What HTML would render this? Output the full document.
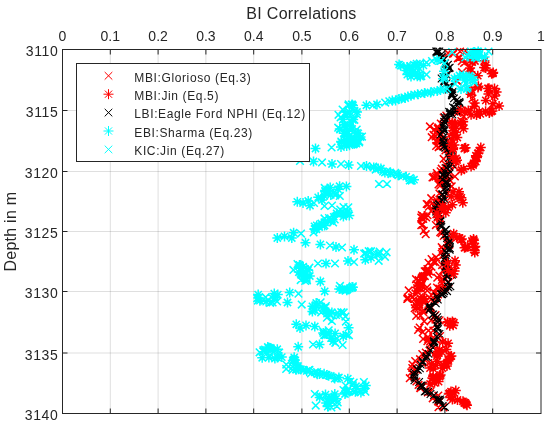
<!DOCTYPE html><html><head><meta charset="utf-8"><style>html,body{margin:0;padding:0;background:#fff;}svg{display:block;filter:blur(0.35px);}text{font-family:"Liberation Sans",Arial,sans-serif;fill:#262626;}</style></head><body>
<svg width="550" height="427" viewBox="0 0 550 427">
<rect width="550" height="427" fill="#fff"/>
<path d="M110.3 49.5V413.5M158.1 49.5V413.5M205.9 49.5V413.5M253.7 49.5V413.5M301.9 49.5V413.5M349.3 49.5V413.5M397.1 49.5V413.5M444.9 49.5V413.5M492.7 49.5V413.5" stroke="#262626" stroke-opacity="0.15" stroke-width="1" fill="none"/>
<path d="M62.5 110.5H541M62.5 171.5H541M62.5 231.5H541M62.5 291.5H541M62.5 353H541" stroke="#262626" stroke-opacity="0.15" stroke-width="1" fill="none"/>
<path d="M449.2 49.7l7.6 7.6m-7.6 0l7.6 -7.6M465 50.8l7.6 7.6m-7.6 0l7.6 -7.6M460.1 48.4l7.6 7.6m-7.6 0l7.6 -7.6M454.1 54.5l7.6 7.6m-7.6 0l7.6 -7.6M455.7 54l7.6 7.6m-7.6 0l7.6 -7.6M454 54.5l7.6 7.6m-7.6 0l7.6 -7.6M449.4 50.1l7.6 7.6m-7.6 0l7.6 -7.6M444.2 49.3l7.6 7.6m-7.6 0l7.6 -7.6M456.3 47.7l7.6 7.6m-7.6 0l7.6 -7.6M466 57.4l7.6 7.6m-7.6 0l7.6 -7.6M458.2 68.4l7.6 7.6m-7.6 0l7.6 -7.6M458 57.4l7.6 7.6m-7.6 0l7.6 -7.6M461.6 58.1l7.6 7.6m-7.6 0l7.6 -7.6M460.3 59.1l7.6 7.6m-7.6 0l7.6 -7.6M453.5 77.2l7.6 7.6m-7.6 0l7.6 -7.6M453 77.1l7.6 7.6m-7.6 0l7.6 -7.6M457.6 117.2l7.6 7.6m-7.6 0l7.6 -7.6M454 119.2l7.6 7.6m-7.6 0l7.6 -7.6M459.9 112.6l7.6 7.6m-7.6 0l7.6 -7.6M453.6 109.1l7.6 7.6m-7.6 0l7.6 -7.6M452.2 107.5l7.6 7.6m-7.6 0l7.6 -7.6M432.6 136.5l7.6 7.6m-7.6 0l7.6 -7.6M430.5 125.7l7.6 7.6m-7.6 0l7.6 -7.6M434 125l7.6 7.6m-7.6 0l7.6 -7.6M426.1 122.6l7.6 7.6m-7.6 0l7.6 -7.6M431.8 132.7l7.6 7.6m-7.6 0l7.6 -7.6M432.3 142.2l7.6 7.6m-7.6 0l7.6 -7.6M427.9 133.4l7.6 7.6m-7.6 0l7.6 -7.6M435.7 136.5l7.6 7.6m-7.6 0l7.6 -7.6M435 143.4l7.6 7.6m-7.6 0l7.6 -7.6M436.1 138.5l7.6 7.6m-7.6 0l7.6 -7.6M437.1 142l7.6 7.6m-7.6 0l7.6 -7.6M429.7 131l7.6 7.6m-7.6 0l7.6 -7.6M431.9 172.8l7.6 7.6m-7.6 0l7.6 -7.6M438.1 174.5l7.6 7.6m-7.6 0l7.6 -7.6M450.8 162.6l7.6 7.6m-7.6 0l7.6 -7.6M433 169.2l7.6 7.6m-7.6 0l7.6 -7.6M440.5 170.7l7.6 7.6m-7.6 0l7.6 -7.6M429.8 173.4l7.6 7.6m-7.6 0l7.6 -7.6M437.9 164.9l7.6 7.6m-7.6 0l7.6 -7.6M444.5 168.6l7.6 7.6m-7.6 0l7.6 -7.6M442.3 170.6l7.6 7.6m-7.6 0l7.6 -7.6M429.7 173l7.6 7.6m-7.6 0l7.6 -7.6M451.1 172.7l7.6 7.6m-7.6 0l7.6 -7.6M442.5 180.1l7.6 7.6m-7.6 0l7.6 -7.6M445.1 175.5l7.6 7.6m-7.6 0l7.6 -7.6M428.7 173.7l7.6 7.6m-7.6 0l7.6 -7.6M437.2 177.8l7.6 7.6m-7.6 0l7.6 -7.6M439.9 175.8l7.6 7.6m-7.6 0l7.6 -7.6M436.2 179.4l7.6 7.6m-7.6 0l7.6 -7.6M447.9 182.5l7.6 7.6m-7.6 0l7.6 -7.6M446.3 176.5l7.6 7.6m-7.6 0l7.6 -7.6M434.7 180.6l7.6 7.6m-7.6 0l7.6 -7.6M427.4 194.4l7.6 7.6m-7.6 0l7.6 -7.6M431 201.4l7.6 7.6m-7.6 0l7.6 -7.6M424.1 200.5l7.6 7.6m-7.6 0l7.6 -7.6M422.9 200.2l7.6 7.6m-7.6 0l7.6 -7.6M425.1 202.9l7.6 7.6m-7.6 0l7.6 -7.6M423.7 211.4l7.6 7.6m-7.6 0l7.6 -7.6M422.4 213.6l7.6 7.6m-7.6 0l7.6 -7.6M418 211.4l7.6 7.6m-7.6 0l7.6 -7.6M418.4 214.3l7.6 7.6m-7.6 0l7.6 -7.6M419.8 212.5l7.6 7.6m-7.6 0l7.6 -7.6M417.4 213.7l7.6 7.6m-7.6 0l7.6 -7.6M419.4 215.2l7.6 7.6m-7.6 0l7.6 -7.6M417.5 221.4l7.6 7.6m-7.6 0l7.6 -7.6M418.9 220.8l7.6 7.6m-7.6 0l7.6 -7.6M420 227l7.6 7.6m-7.6 0l7.6 -7.6M421.9 230.4l7.6 7.6m-7.6 0l7.6 -7.6M438.5 248.2l7.6 7.6m-7.6 0l7.6 -7.6M439 251.4l7.6 7.6m-7.6 0l7.6 -7.6M432.2 253.5l7.6 7.6m-7.6 0l7.6 -7.6M431.7 258.4l7.6 7.6m-7.6 0l7.6 -7.6M427.8 255.3l7.6 7.6m-7.6 0l7.6 -7.6M429.8 258l7.6 7.6m-7.6 0l7.6 -7.6M424.8 259l7.6 7.6m-7.6 0l7.6 -7.6M427.7 263l7.6 7.6m-7.6 0l7.6 -7.6M423.6 267.4l7.6 7.6m-7.6 0l7.6 -7.6M423.6 265.2l7.6 7.6m-7.6 0l7.6 -7.6M424.5 265.6l7.6 7.6m-7.6 0l7.6 -7.6M421 272.3l7.6 7.6m-7.6 0l7.6 -7.6M426 267.9l7.6 7.6m-7.6 0l7.6 -7.6M423.8 269.7l7.6 7.6m-7.6 0l7.6 -7.6M417.5 275.9l7.6 7.6m-7.6 0l7.6 -7.6M418.6 273.4l7.6 7.6m-7.6 0l7.6 -7.6M417.7 280.1l7.6 7.6m-7.6 0l7.6 -7.6M412.2 275.4l7.6 7.6m-7.6 0l7.6 -7.6M417.1 281.6l7.6 7.6m-7.6 0l7.6 -7.6M417 279.6l7.6 7.6m-7.6 0l7.6 -7.6M412.7 280.6l7.6 7.6m-7.6 0l7.6 -7.6M413.9 284.8l7.6 7.6m-7.6 0l7.6 -7.6M412.9 286.7l7.6 7.6m-7.6 0l7.6 -7.6M411.6 289.6l7.6 7.6m-7.6 0l7.6 -7.6M404.9 286.6l7.6 7.6m-7.6 0l7.6 -7.6M408.5 293.5l7.6 7.6m-7.6 0l7.6 -7.6M404.1 294.9l7.6 7.6m-7.6 0l7.6 -7.6M403.4 295.2l7.6 7.6m-7.6 0l7.6 -7.6M403.9 293.7l7.6 7.6m-7.6 0l7.6 -7.6M422.3 267.3l7.6 7.6m-7.6 0l7.6 -7.6M424.5 270.4l7.6 7.6m-7.6 0l7.6 -7.6M420.9 267.5l7.6 7.6m-7.6 0l7.6 -7.6M419.3 272.4l7.6 7.6m-7.6 0l7.6 -7.6M417.9 274.5l7.6 7.6m-7.6 0l7.6 -7.6M417.9 274.6l7.6 7.6m-7.6 0l7.6 -7.6M414.9 276.4l7.6 7.6m-7.6 0l7.6 -7.6M417 284.7l7.6 7.6m-7.6 0l7.6 -7.6M415.8 281.4l7.6 7.6m-7.6 0l7.6 -7.6M415.8 284.4l7.6 7.6m-7.6 0l7.6 -7.6M413.3 284.4l7.6 7.6m-7.6 0l7.6 -7.6M414.2 288.8l7.6 7.6m-7.6 0l7.6 -7.6M415.7 293.6l7.6 7.6m-7.6 0l7.6 -7.6M408.2 293.7l7.6 7.6m-7.6 0l7.6 -7.6M411 295.2l7.6 7.6m-7.6 0l7.6 -7.6M411.5 300.8l7.6 7.6m-7.6 0l7.6 -7.6M415.5 300.1l7.6 7.6m-7.6 0l7.6 -7.6M412.8 303.8l7.6 7.6m-7.6 0l7.6 -7.6M414.6 304.8l7.6 7.6m-7.6 0l7.6 -7.6M410.9 304.4l7.6 7.6m-7.6 0l7.6 -7.6M412.4 312.1l7.6 7.6m-7.6 0l7.6 -7.6M419.5 308.4l7.6 7.6m-7.6 0l7.6 -7.6M416.8 311.9l7.6 7.6m-7.6 0l7.6 -7.6M420.4 317.5l7.6 7.6m-7.6 0l7.6 -7.6M426.3 337.8l7.6 7.6m-7.6 0l7.6 -7.6M424.7 326.8l7.6 7.6m-7.6 0l7.6 -7.6M418.9 328.4l7.6 7.6m-7.6 0l7.6 -7.6M415.9 323.8l7.6 7.6m-7.6 0l7.6 -7.6M419.3 335.2l7.6 7.6m-7.6 0l7.6 -7.6M414.3 326.2l7.6 7.6m-7.6 0l7.6 -7.6M424.5 335.4l7.6 7.6m-7.6 0l7.6 -7.6M424.2 333.3l7.6 7.6m-7.6 0l7.6 -7.6M433.5 273.9l7.6 7.6m-7.6 0l7.6 -7.6M438.2 279.6l7.6 7.6m-7.6 0l7.6 -7.6M423.3 283.5l7.6 7.6m-7.6 0l7.6 -7.6M433.2 283.7l7.6 7.6m-7.6 0l7.6 -7.6M429.9 288.1l7.6 7.6m-7.6 0l7.6 -7.6M435.5 271.8l7.6 7.6m-7.6 0l7.6 -7.6M423.5 286.8l7.6 7.6m-7.6 0l7.6 -7.6M437.7 284.7l7.6 7.6m-7.6 0l7.6 -7.6M438.1 276.1l7.6 7.6m-7.6 0l7.6 -7.6M442.5 111.7l7.6 7.6m-7.6 0l7.6 -7.6M439.9 113.8l7.6 7.6m-7.6 0l7.6 -7.6M437 119.8l7.6 7.6m-7.6 0l7.6 -7.6M434.5 123.6l7.6 7.6m-7.6 0l7.6 -7.6M433.5 130.2l7.6 7.6m-7.6 0l7.6 -7.6M434.7 125.4l7.6 7.6m-7.6 0l7.6 -7.6M434.5 135.9l7.6 7.6m-7.6 0l7.6 -7.6M437.6 130.6l7.6 7.6m-7.6 0l7.6 -7.6M442.1 134.7l7.6 7.6m-7.6 0l7.6 -7.6M434.8 143.3l7.6 7.6m-7.6 0l7.6 -7.6M444.5 144l7.6 7.6m-7.6 0l7.6 -7.6M441.6 146.7l7.6 7.6m-7.6 0l7.6 -7.6M446.4 145.6l7.6 7.6m-7.6 0l7.6 -7.6M439.8 155.1l7.6 7.6m-7.6 0l7.6 -7.6M443.8 151l7.6 7.6m-7.6 0l7.6 -7.6M446.4 161.7l7.6 7.6m-7.6 0l7.6 -7.6M441.5 160.5l7.6 7.6m-7.6 0l7.6 -7.6M441.6 164.5l7.6 7.6m-7.6 0l7.6 -7.6M436.8 167.5l7.6 7.6m-7.6 0l7.6 -7.6M441.4 169.9l7.6 7.6m-7.6 0l7.6 -7.6M441.3 172.9l7.6 7.6m-7.6 0l7.6 -7.6M433.3 171.6l7.6 7.6m-7.6 0l7.6 -7.6M436.3 179l7.6 7.6m-7.6 0l7.6 -7.6M441.4 174.9l7.6 7.6m-7.6 0l7.6 -7.6M436.6 181.7l7.6 7.6m-7.6 0l7.6 -7.6M440.4 184.9l7.6 7.6m-7.6 0l7.6 -7.6M435.6 189.7l7.6 7.6m-7.6 0l7.6 -7.6M439.8 193.4l7.6 7.6m-7.6 0l7.6 -7.6M437.1 196.1l7.6 7.6m-7.6 0l7.6 -7.6M436.5 197.7l7.6 7.6m-7.6 0l7.6 -7.6M432.8 196.6l7.6 7.6m-7.6 0l7.6 -7.6M433.5 199.1l7.6 7.6m-7.6 0l7.6 -7.6M427.4 207.1l7.6 7.6m-7.6 0l7.6 -7.6M430.6 202.8l7.6 7.6m-7.6 0l7.6 -7.6M432.9 205.7l7.6 7.6m-7.6 0l7.6 -7.6M435.9 210.7l7.6 7.6m-7.6 0l7.6 -7.6M436.6 215.8l7.6 7.6m-7.6 0l7.6 -7.6M435.8 220.3l7.6 7.6m-7.6 0l7.6 -7.6M436.5 221l7.6 7.6m-7.6 0l7.6 -7.6M432.1 221.3l7.6 7.6m-7.6 0l7.6 -7.6M437.8 229.4l7.6 7.6m-7.6 0l7.6 -7.6M439.9 232.1l7.6 7.6m-7.6 0l7.6 -7.6M436.4 228.4l7.6 7.6m-7.6 0l7.6 -7.6M443.1 238.5l7.6 7.6m-7.6 0l7.6 -7.6M444 238.2l7.6 7.6m-7.6 0l7.6 -7.6M445.6 240.8l7.6 7.6m-7.6 0l7.6 -7.6M444.1 241.7l7.6 7.6m-7.6 0l7.6 -7.6M437.9 243.4l7.6 7.6m-7.6 0l7.6 -7.6M439.1 245.5l7.6 7.6m-7.6 0l7.6 -7.6M441.9 254.1l7.6 7.6m-7.6 0l7.6 -7.6M440 251.2l7.6 7.6m-7.6 0l7.6 -7.6M438.3 261.3l7.6 7.6m-7.6 0l7.6 -7.6M441.2 262.1l7.6 7.6m-7.6 0l7.6 -7.6M439.4 266.5l7.6 7.6m-7.6 0l7.6 -7.6M444.7 265.2l7.6 7.6m-7.6 0l7.6 -7.6M443.4 269.8l7.6 7.6m-7.6 0l7.6 -7.6M441.1 274.4l7.6 7.6m-7.6 0l7.6 -7.6M444.4 272.6l7.6 7.6m-7.6 0l7.6 -7.6M441.1 283.3l7.6 7.6m-7.6 0l7.6 -7.6M444.6 278.6l7.6 7.6m-7.6 0l7.6 -7.6M435.5 284.9l7.6 7.6m-7.6 0l7.6 -7.6M434.2 290.7l7.6 7.6m-7.6 0l7.6 -7.6M439.2 285.2l7.6 7.6m-7.6 0l7.6 -7.6M433 293.4l7.6 7.6m-7.6 0l7.6 -7.6M430.8 295.6l7.6 7.6m-7.6 0l7.6 -7.6M425.5 293.8l7.6 7.6m-7.6 0l7.6 -7.6M427.5 295.5l7.6 7.6m-7.6 0l7.6 -7.6M426.6 302.7l7.6 7.6m-7.6 0l7.6 -7.6M426.4 304.3l7.6 7.6m-7.6 0l7.6 -7.6M419.7 306.2l7.6 7.6m-7.6 0l7.6 -7.6M427.3 303.9l7.6 7.6m-7.6 0l7.6 -7.6M424.7 306.6l7.6 7.6m-7.6 0l7.6 -7.6M431.6 315.8l7.6 7.6m-7.6 0l7.6 -7.6M431.7 311.3l7.6 7.6m-7.6 0l7.6 -7.6M427.4 316.5l7.6 7.6m-7.6 0l7.6 -7.6M435.8 316.5l7.6 7.6m-7.6 0l7.6 -7.6M432.2 320.4l7.6 7.6m-7.6 0l7.6 -7.6M429.5 326.7l7.6 7.6m-7.6 0l7.6 -7.6M436.2 332.2l7.6 7.6m-7.6 0l7.6 -7.6M429.6 333.7l7.6 7.6m-7.6 0l7.6 -7.6M427.4 339.5l7.6 7.6m-7.6 0l7.6 -7.6M432.3 336.2l7.6 7.6m-7.6 0l7.6 -7.6M423.6 337.4l7.6 7.6m-7.6 0l7.6 -7.6M428.8 340.9l7.6 7.6m-7.6 0l7.6 -7.6M425.7 346.8l7.6 7.6m-7.6 0l7.6 -7.6M418.5 350.3l7.6 7.6m-7.6 0l7.6 -7.6M422 348.7l7.6 7.6m-7.6 0l7.6 -7.6M421.5 356.4l7.6 7.6m-7.6 0l7.6 -7.6M416.2 355.4l7.6 7.6m-7.6 0l7.6 -7.6M418.1 359l7.6 7.6m-7.6 0l7.6 -7.6M411.4 357.2l7.6 7.6m-7.6 0l7.6 -7.6M408.7 360.8l7.6 7.6m-7.6 0l7.6 -7.6M408.5 364.2l7.6 7.6m-7.6 0l7.6 -7.6M412.5 365.8l7.6 7.6m-7.6 0l7.6 -7.6M410.1 372.6l7.6 7.6m-7.6 0l7.6 -7.6M407.5 368.6l7.6 7.6m-7.6 0l7.6 -7.6M410.1 372.2l7.6 7.6m-7.6 0l7.6 -7.6M406 374.4l7.6 7.6m-7.6 0l7.6 -7.6M414.8 381.1l7.6 7.6m-7.6 0l7.6 -7.6M412.6 377.7l7.6 7.6m-7.6 0l7.6 -7.6M416.3 384.2l7.6 7.6m-7.6 0l7.6 -7.6M418.3 381.7l7.6 7.6m-7.6 0l7.6 -7.6M416.7 384.4l7.6 7.6m-7.6 0l7.6 -7.6M426.5 388l7.6 7.6m-7.6 0l7.6 -7.6M428.9 394.5l7.6 7.6m-7.6 0l7.6 -7.6M424 388.7l7.6 7.6m-7.6 0l7.6 -7.6M434.5 391.7l7.6 7.6m-7.6 0l7.6 -7.6M434.2 397.7l7.6 7.6m-7.6 0l7.6 -7.6M435.4 398.3l7.6 7.6m-7.6 0l7.6 -7.6M439.7 403.6l7.6 7.6m-7.6 0l7.6 -7.6M434.7 403.4l7.6 7.6m-7.6 0l7.6 -7.6M467.4 88.4l7.6 7.6m-7.6 0l7.6 -7.6M468.7 94.7l7.6 7.6m-7.6 0l7.6 -7.6" stroke="#ff0000" stroke-width="1.5" fill="none"/>
<path d="M433.8 47.7l7.6 7.6m-7.6 0l7.6 -7.6M433.6 47.7l7.6 7.6m-7.6 0l7.6 -7.6M432.9 49l7.6 7.6m-7.6 0l7.6 -7.6M437.6 50.7l7.6 7.6m-7.6 0l7.6 -7.6M437.1 54l7.6 7.6m-7.6 0l7.6 -7.6M438.2 53.3l7.6 7.6m-7.6 0l7.6 -7.6M439.8 56l7.6 7.6m-7.6 0l7.6 -7.6M441.3 59.6l7.6 7.6m-7.6 0l7.6 -7.6M444.1 60.8l7.6 7.6m-7.6 0l7.6 -7.6M444.8 64.5l7.6 7.6m-7.6 0l7.6 -7.6M442.2 64.5l7.6 7.6m-7.6 0l7.6 -7.6M442.3 66.6l7.6 7.6m-7.6 0l7.6 -7.6M441 69l7.6 7.6m-7.6 0l7.6 -7.6M440.1 73.3l7.6 7.6m-7.6 0l7.6 -7.6M437.8 74.7l7.6 7.6m-7.6 0l7.6 -7.6M440.3 77.1l7.6 7.6m-7.6 0l7.6 -7.6M440.2 78.7l7.6 7.6m-7.6 0l7.6 -7.6M445.2 82.9l7.6 7.6m-7.6 0l7.6 -7.6M446.7 83.1l7.6 7.6m-7.6 0l7.6 -7.6M445 85.7l7.6 7.6m-7.6 0l7.6 -7.6M448.9 87.8l7.6 7.6m-7.6 0l7.6 -7.6M448.1 89.9l7.6 7.6m-7.6 0l7.6 -7.6M448.6 91.7l7.6 7.6m-7.6 0l7.6 -7.6M453 96.3l7.6 7.6m-7.6 0l7.6 -7.6M453.8 99l7.6 7.6m-7.6 0l7.6 -7.6M456 99.5l7.6 7.6m-7.6 0l7.6 -7.6M453.7 101.6l7.6 7.6m-7.6 0l7.6 -7.6M451.4 104.2l7.6 7.6m-7.6 0l7.6 -7.6M452.6 107.1l7.6 7.6m-7.6 0l7.6 -7.6M450.3 107.7l7.6 7.6m-7.6 0l7.6 -7.6M448.6 110.7l7.6 7.6m-7.6 0l7.6 -7.6M446 110.5l7.6 7.6m-7.6 0l7.6 -7.6M443.3 113.7l7.6 7.6m-7.6 0l7.6 -7.6M442.5 116.1l7.6 7.6m-7.6 0l7.6 -7.6M440.4 118l7.6 7.6m-7.6 0l7.6 -7.6M439.9 121.2l7.6 7.6m-7.6 0l7.6 -7.6M439.7 123.3l7.6 7.6m-7.6 0l7.6 -7.6M440.3 125.3l7.6 7.6m-7.6 0l7.6 -7.6M438.5 127.7l7.6 7.6m-7.6 0l7.6 -7.6M436.7 130.8l7.6 7.6m-7.6 0l7.6 -7.6M439.6 133.5l7.6 7.6m-7.6 0l7.6 -7.6M438.9 136.2l7.6 7.6m-7.6 0l7.6 -7.6M439.6 139l7.6 7.6m-7.6 0l7.6 -7.6M440.2 138.3l7.6 7.6m-7.6 0l7.6 -7.6M441 142.1l7.6 7.6m-7.6 0l7.6 -7.6M441.6 144l7.6 7.6m-7.6 0l7.6 -7.6M444.4 145l7.6 7.6m-7.6 0l7.6 -7.6M445.2 148.7l7.6 7.6m-7.6 0l7.6 -7.6M446.9 150.8l7.6 7.6m-7.6 0l7.6 -7.6M445.2 154.3l7.6 7.6m-7.6 0l7.6 -7.6M446.9 156.6l7.6 7.6m-7.6 0l7.6 -7.6M448.2 160.6l7.6 7.6m-7.6 0l7.6 -7.6M445.7 163l7.6 7.6m-7.6 0l7.6 -7.6M444.3 165.1l7.6 7.6m-7.6 0l7.6 -7.6M442.5 164.2l7.6 7.6m-7.6 0l7.6 -7.6M441 168l7.6 7.6m-7.6 0l7.6 -7.6M442.3 171.3l7.6 7.6m-7.6 0l7.6 -7.6M439.6 170.9l7.6 7.6m-7.6 0l7.6 -7.6M438.7 175.7l7.6 7.6m-7.6 0l7.6 -7.6M441.4 178.9l7.6 7.6m-7.6 0l7.6 -7.6M443.1 179.8l7.6 7.6m-7.6 0l7.6 -7.6M441.3 184l7.6 7.6m-7.6 0l7.6 -7.6M443 183.4l7.6 7.6m-7.6 0l7.6 -7.6M442.3 187.7l7.6 7.6m-7.6 0l7.6 -7.6M438.6 190.1l7.6 7.6m-7.6 0l7.6 -7.6M438.3 190.8l7.6 7.6m-7.6 0l7.6 -7.6M438.8 196.2l7.6 7.6m-7.6 0l7.6 -7.6M437.7 196.4l7.6 7.6m-7.6 0l7.6 -7.6M435.2 200.9l7.6 7.6m-7.6 0l7.6 -7.6M435.5 200.2l7.6 7.6m-7.6 0l7.6 -7.6M432.3 205.4l7.6 7.6m-7.6 0l7.6 -7.6M432.3 207.8l7.6 7.6m-7.6 0l7.6 -7.6M434.2 208.6l7.6 7.6m-7.6 0l7.6 -7.6M435.3 211.5l7.6 7.6m-7.6 0l7.6 -7.6M434 212.9l7.6 7.6m-7.6 0l7.6 -7.6M436.6 217.2l7.6 7.6m-7.6 0l7.6 -7.6M436.8 217.6l7.6 7.6m-7.6 0l7.6 -7.6M437.2 221.4l7.6 7.6m-7.6 0l7.6 -7.6M437.5 223.2l7.6 7.6m-7.6 0l7.6 -7.6M441 226.7l7.6 7.6m-7.6 0l7.6 -7.6M443.3 230.1l7.6 7.6m-7.6 0l7.6 -7.6M442.9 230.1l7.6 7.6m-7.6 0l7.6 -7.6M445.1 232.3l7.6 7.6m-7.6 0l7.6 -7.6M443.2 234.2l7.6 7.6m-7.6 0l7.6 -7.6M445.1 237.4l7.6 7.6m-7.6 0l7.6 -7.6M444.6 239.5l7.6 7.6m-7.6 0l7.6 -7.6M446.1 244.5l7.6 7.6m-7.6 0l7.6 -7.6M445.9 246.1l7.6 7.6m-7.6 0l7.6 -7.6M442.2 248.2l7.6 7.6m-7.6 0l7.6 -7.6M442.7 249.3l7.6 7.6m-7.6 0l7.6 -7.6M441.9 252.9l7.6 7.6m-7.6 0l7.6 -7.6M441.1 256.8l7.6 7.6m-7.6 0l7.6 -7.6M443.1 260.5l7.6 7.6m-7.6 0l7.6 -7.6M441.6 262.8l7.6 7.6m-7.6 0l7.6 -7.6M442.5 262.9l7.6 7.6m-7.6 0l7.6 -7.6M444.1 268.3l7.6 7.6m-7.6 0l7.6 -7.6M445.5 268.6l7.6 7.6m-7.6 0l7.6 -7.6M443.2 271.8l7.6 7.6m-7.6 0l7.6 -7.6M443.4 272.9l7.6 7.6m-7.6 0l7.6 -7.6M444.4 278.1l7.6 7.6m-7.6 0l7.6 -7.6M444.1 278.6l7.6 7.6m-7.6 0l7.6 -7.6M443.9 282.9l7.6 7.6m-7.6 0l7.6 -7.6M444.6 283.5l7.6 7.6m-7.6 0l7.6 -7.6M443.3 287.4l7.6 7.6m-7.6 0l7.6 -7.6M440.3 287.4l7.6 7.6m-7.6 0l7.6 -7.6M437.1 290.3l7.6 7.6m-7.6 0l7.6 -7.6M438.3 290.4l7.6 7.6m-7.6 0l7.6 -7.6M432.9 292.6l7.6 7.6m-7.6 0l7.6 -7.6M434 295.7l7.6 7.6m-7.6 0l7.6 -7.6M432 299.5l7.6 7.6m-7.6 0l7.6 -7.6M430.6 298.1l7.6 7.6m-7.6 0l7.6 -7.6M426.8 303.1l7.6 7.6m-7.6 0l7.6 -7.6M424.6 302.5l7.6 7.6m-7.6 0l7.6 -7.6M425.9 305.4l7.6 7.6m-7.6 0l7.6 -7.6M429.3 310.6l7.6 7.6m-7.6 0l7.6 -7.6M428.6 310.8l7.6 7.6m-7.6 0l7.6 -7.6M430.7 312.3l7.6 7.6m-7.6 0l7.6 -7.6M433.4 313.3l7.6 7.6m-7.6 0l7.6 -7.6M434.1 315.8l7.6 7.6m-7.6 0l7.6 -7.6M433.9 318.3l7.6 7.6m-7.6 0l7.6 -7.6M433.5 322.4l7.6 7.6m-7.6 0l7.6 -7.6M434 323.5l7.6 7.6m-7.6 0l7.6 -7.6M434.2 325.4l7.6 7.6m-7.6 0l7.6 -7.6M435.6 330.1l7.6 7.6m-7.6 0l7.6 -7.6M433.1 332.8l7.6 7.6m-7.6 0l7.6 -7.6M434.2 334.3l7.6 7.6m-7.6 0l7.6 -7.6M430.4 337.2l7.6 7.6m-7.6 0l7.6 -7.6M430 338.4l7.6 7.6m-7.6 0l7.6 -7.6M430.4 339.8l7.6 7.6m-7.6 0l7.6 -7.6M429.3 343.7l7.6 7.6m-7.6 0l7.6 -7.6M426.5 346.3l7.6 7.6m-7.6 0l7.6 -7.6M424.7 350.1l7.6 7.6m-7.6 0l7.6 -7.6M422.6 352.3l7.6 7.6m-7.6 0l7.6 -7.6M423.2 353.5l7.6 7.6m-7.6 0l7.6 -7.6M422.2 354.7l7.6 7.6m-7.6 0l7.6 -7.6M418.8 357.2l7.6 7.6m-7.6 0l7.6 -7.6M419 358.4l7.6 7.6m-7.6 0l7.6 -7.6M416.9 360.7l7.6 7.6m-7.6 0l7.6 -7.6M416.1 364.6l7.6 7.6m-7.6 0l7.6 -7.6M414 366l7.6 7.6m-7.6 0l7.6 -7.6M413.2 365.6l7.6 7.6m-7.6 0l7.6 -7.6M410.5 368.6l7.6 7.6m-7.6 0l7.6 -7.6M409.9 370.6l7.6 7.6m-7.6 0l7.6 -7.6M410.8 371.7l7.6 7.6m-7.6 0l7.6 -7.6M410.9 373.9l7.6 7.6m-7.6 0l7.6 -7.6M410.6 376.6l7.6 7.6m-7.6 0l7.6 -7.6M415.3 378.2l7.6 7.6m-7.6 0l7.6 -7.6M417.5 382l7.6 7.6m-7.6 0l7.6 -7.6M416.8 381.8l7.6 7.6m-7.6 0l7.6 -7.6M419.1 382.5l7.6 7.6m-7.6 0l7.6 -7.6M420.9 387.7l7.6 7.6m-7.6 0l7.6 -7.6M422.3 387.3l7.6 7.6m-7.6 0l7.6 -7.6M424.3 387.8l7.6 7.6m-7.6 0l7.6 -7.6M426.7 390.2l7.6 7.6m-7.6 0l7.6 -7.6M430.1 391.5l7.6 7.6m-7.6 0l7.6 -7.6M432.6 395.6l7.6 7.6m-7.6 0l7.6 -7.6M434.7 395.9l7.6 7.6m-7.6 0l7.6 -7.6M436.2 395.7l7.6 7.6m-7.6 0l7.6 -7.6M436.6 397.2l7.6 7.6m-7.6 0l7.6 -7.6M438.9 402.1l7.6 7.6m-7.6 0l7.6 -7.6M441.1 403.2l7.6 7.6m-7.6 0l7.6 -7.6M432.4 47.7l7.6 7.6m-7.6 0l7.6 -7.6M435.5 47.7l7.6 7.6m-7.6 0l7.6 -7.6M440.4 55.7l7.6 7.6m-7.6 0l7.6 -7.6M444 61.1l7.6 7.6m-7.6 0l7.6 -7.6M445.9 63.9l7.6 7.6m-7.6 0l7.6 -7.6M443.3 71.4l7.6 7.6m-7.6 0l7.6 -7.6M439.7 73.4l7.6 7.6m-7.6 0l7.6 -7.6M442.5 79.6l7.6 7.6m-7.6 0l7.6 -7.6M444.2 83.2l7.6 7.6m-7.6 0l7.6 -7.6M448 91.3l7.6 7.6m-7.6 0l7.6 -7.6M450.2 94.6l7.6 7.6m-7.6 0l7.6 -7.6M455.6 98.1l7.6 7.6m-7.6 0l7.6 -7.6M449.2 103.5l7.6 7.6m-7.6 0l7.6 -7.6M446.7 108.4l7.6 7.6m-7.6 0l7.6 -7.6M441.6 116l7.6 7.6m-7.6 0l7.6 -7.6M453.2 106.8l7.6 7.6m-7.6 0l7.6 -7.6M445.3 108l7.6 7.6m-7.6 0l7.6 -7.6M440.9 113.3l7.6 7.6m-7.6 0l7.6 -7.6M441.5 118.7l7.6 7.6m-7.6 0l7.6 -7.6M440.5 126.9l7.6 7.6m-7.6 0l7.6 -7.6M443 137.5l7.6 7.6m-7.6 0l7.6 -7.6M439.7 142.9l7.6 7.6m-7.6 0l7.6 -7.6M448 146.5l7.6 7.6m-7.6 0l7.6 -7.6M448.5 153.5l7.6 7.6m-7.6 0l7.6 -7.6M446.8 158.6l7.6 7.6m-7.6 0l7.6 -7.6M445 170.3l7.6 7.6m-7.6 0l7.6 -7.6M438.7 171.4l7.6 7.6m-7.6 0l7.6 -7.6M442.9 178.1l7.6 7.6m-7.6 0l7.6 -7.6M442.7 190.2l7.6 7.6m-7.6 0l7.6 -7.6M441.3 195.8l7.6 7.6m-7.6 0l7.6 -7.6M433.3 201.6l7.6 7.6m-7.6 0l7.6 -7.6M434.4 205.6l7.6 7.6m-7.6 0l7.6 -7.6M432.9 210.3l7.6 7.6m-7.6 0l7.6 -7.6M435.9 217.6l7.6 7.6m-7.6 0l7.6 -7.6M442.3 225.9l7.6 7.6m-7.6 0l7.6 -7.6M441.4 230.8l7.6 7.6m-7.6 0l7.6 -7.6M446.1 236.4l7.6 7.6m-7.6 0l7.6 -7.6M443.2 244.7l7.6 7.6m-7.6 0l7.6 -7.6M440.9 254.5l7.6 7.6m-7.6 0l7.6 -7.6M441.8 258l7.6 7.6m-7.6 0l7.6 -7.6M443.1 269l7.6 7.6m-7.6 0l7.6 -7.6M448.1 270.9l7.6 7.6m-7.6 0l7.6 -7.6M446.6 282.6l7.6 7.6m-7.6 0l7.6 -7.6M439.7 289.6l7.6 7.6m-7.6 0l7.6 -7.6" stroke="#000000" stroke-width="1.15" fill="none"/>
<path d="M465.1 68h10m-5 -5v10m-3.6 -8.6l7.2 7.2m-7.2 0l7.2 -7.2M480.7 65.3h10m-5 -5v10m-3.6 -8.6l7.2 7.2m-7.2 0l7.2 -7.2M470 61h10m-5 -5v10m-3.6 -8.6l7.2 7.2m-7.2 0l7.2 -7.2M472.8 75.7h10m-5 -5v10m-3.6 -8.6l7.2 7.2m-7.2 0l7.2 -7.2M480.7 67.9h10m-5 -5v10m-3.6 -8.6l7.2 7.2m-7.2 0l7.2 -7.2M467.3 62h10m-5 -5v10m-3.6 -8.6l7.2 7.2m-7.2 0l7.2 -7.2M479.4 60.8h10m-5 -5v10m-3.6 -8.6l7.2 7.2m-7.2 0l7.2 -7.2M479.1 67.6h10m-5 -5v10m-3.6 -8.6l7.2 7.2m-7.2 0l7.2 -7.2M465.4 71.7h10m-5 -5v10m-3.6 -8.6l7.2 7.2m-7.2 0l7.2 -7.2M488.1 73.3h10m-5 -5v10m-3.6 -8.6l7.2 7.2m-7.2 0l7.2 -7.2M488.2 72.6h10m-5 -5v10m-3.6 -8.6l7.2 7.2m-7.2 0l7.2 -7.2M486.7 73.7h10m-5 -5v10m-3.6 -8.6l7.2 7.2m-7.2 0l7.2 -7.2M464.6 90.4h10m-5 -5v10m-3.6 -8.6l7.2 7.2m-7.2 0l7.2 -7.2M466.4 89.6h10m-5 -5v10m-3.6 -8.6l7.2 7.2m-7.2 0l7.2 -7.2M473 87.4h10m-5 -5v10m-3.6 -8.6l7.2 7.2m-7.2 0l7.2 -7.2M473.4 86.3h10m-5 -5v10m-3.6 -8.6l7.2 7.2m-7.2 0l7.2 -7.2M465.6 94.2h10m-5 -5v10m-3.6 -8.6l7.2 7.2m-7.2 0l7.2 -7.2M469.7 103.1h10m-5 -5v10m-3.6 -8.6l7.2 7.2m-7.2 0l7.2 -7.2M469.4 106.5h10m-5 -5v10m-3.6 -8.6l7.2 7.2m-7.2 0l7.2 -7.2M482.8 88.4h10m-5 -5v10m-3.6 -8.6l7.2 7.2m-7.2 0l7.2 -7.2M487.9 103.8h10m-5 -5v10m-3.6 -8.6l7.2 7.2m-7.2 0l7.2 -7.2M480.8 100.4h10m-5 -5v10m-3.6 -8.6l7.2 7.2m-7.2 0l7.2 -7.2M491.6 92.1h10m-5 -5v10m-3.6 -8.6l7.2 7.2m-7.2 0l7.2 -7.2M483.4 94.1h10m-5 -5v10m-3.6 -8.6l7.2 7.2m-7.2 0l7.2 -7.2M494.1 106h10m-5 -5v10m-3.6 -8.6l7.2 7.2m-7.2 0l7.2 -7.2M489.7 96h10m-5 -5v10m-3.6 -8.6l7.2 7.2m-7.2 0l7.2 -7.2M489.5 88.6h10m-5 -5v10m-3.6 -8.6l7.2 7.2m-7.2 0l7.2 -7.2M484 88.3h10m-5 -5v10m-3.6 -8.6l7.2 7.2m-7.2 0l7.2 -7.2M455.9 110.1h10m-5 -5v10m-3.6 -8.6l7.2 7.2m-7.2 0l7.2 -7.2M459.6 112.3h10m-5 -5v10m-3.6 -8.6l7.2 7.2m-7.2 0l7.2 -7.2M463.3 110.5h10m-5 -5v10m-3.6 -8.6l7.2 7.2m-7.2 0l7.2 -7.2M466.1 114.8h10m-5 -5v10m-3.6 -8.6l7.2 7.2m-7.2 0l7.2 -7.2M471.5 114.9h10m-5 -5v10m-3.6 -8.6l7.2 7.2m-7.2 0l7.2 -7.2M474.2 111.8h10m-5 -5v10m-3.6 -8.6l7.2 7.2m-7.2 0l7.2 -7.2M475.3 113.9h10m-5 -5v10m-3.6 -8.6l7.2 7.2m-7.2 0l7.2 -7.2M480.6 111.3h10m-5 -5v10m-3.6 -8.6l7.2 7.2m-7.2 0l7.2 -7.2M484.3 112.9h10m-5 -5v10m-3.6 -8.6l7.2 7.2m-7.2 0l7.2 -7.2M486.2 111.5h10m-5 -5v10m-3.6 -8.6l7.2 7.2m-7.2 0l7.2 -7.2M487.4 110.9h10m-5 -5v10m-3.6 -8.6l7.2 7.2m-7.2 0l7.2 -7.2M447.5 125h10m-5 -5v10m-3.6 -8.6l7.2 7.2m-7.2 0l7.2 -7.2M458.2 121.8h10m-5 -5v10m-3.6 -8.6l7.2 7.2m-7.2 0l7.2 -7.2M448.5 127.3h10m-5 -5v10m-3.6 -8.6l7.2 7.2m-7.2 0l7.2 -7.2M457.7 125.1h10m-5 -5v10m-3.6 -8.6l7.2 7.2m-7.2 0l7.2 -7.2M450.2 128.6h10m-5 -5v10m-3.6 -8.6l7.2 7.2m-7.2 0l7.2 -7.2M450.9 132.6h10m-5 -5v10m-3.6 -8.6l7.2 7.2m-7.2 0l7.2 -7.2M458.5 128.7h10m-5 -5v10m-3.6 -8.6l7.2 7.2m-7.2 0l7.2 -7.2M449.6 123.5h10m-5 -5v10m-3.6 -8.6l7.2 7.2m-7.2 0l7.2 -7.2M447.2 122.7h10m-5 -5v10m-3.6 -8.6l7.2 7.2m-7.2 0l7.2 -7.2M456 123.5h10m-5 -5v10m-3.6 -8.6l7.2 7.2m-7.2 0l7.2 -7.2M448.1 149.4h10m-5 -5v10m-3.6 -8.6l7.2 7.2m-7.2 0l7.2 -7.2M447 133.9h10m-5 -5v10m-3.6 -8.6l7.2 7.2m-7.2 0l7.2 -7.2M452.3 137.5h10m-5 -5v10m-3.6 -8.6l7.2 7.2m-7.2 0l7.2 -7.2M445.8 144.8h10m-5 -5v10m-3.6 -8.6l7.2 7.2m-7.2 0l7.2 -7.2M449.5 144.9h10m-5 -5v10m-3.6 -8.6l7.2 7.2m-7.2 0l7.2 -7.2M447.3 140.1h10m-5 -5v10m-3.6 -8.6l7.2 7.2m-7.2 0l7.2 -7.2M448.1 148.8h10m-5 -5v10m-3.6 -8.6l7.2 7.2m-7.2 0l7.2 -7.2M448.5 135.8h10m-5 -5v10m-3.6 -8.6l7.2 7.2m-7.2 0l7.2 -7.2M459.3 148.6h10m-5 -5v10m-3.6 -8.6l7.2 7.2m-7.2 0l7.2 -7.2M459.7 148h10m-5 -5v10m-3.6 -8.6l7.2 7.2m-7.2 0l7.2 -7.2M460.6 147.8h10m-5 -5v10m-3.6 -8.6l7.2 7.2m-7.2 0l7.2 -7.2M475.8 147.4h10m-5 -5v10m-3.6 -8.6l7.2 7.2m-7.2 0l7.2 -7.2M474.2 150.7h10m-5 -5v10m-3.6 -8.6l7.2 7.2m-7.2 0l7.2 -7.2M472.7 153.3h10m-5 -5v10m-3.6 -8.6l7.2 7.2m-7.2 0l7.2 -7.2M473.5 153.1h10m-5 -5v10m-3.6 -8.6l7.2 7.2m-7.2 0l7.2 -7.2M470.9 155.7h10m-5 -5v10m-3.6 -8.6l7.2 7.2m-7.2 0l7.2 -7.2M471.2 156.1h10m-5 -5v10m-3.6 -8.6l7.2 7.2m-7.2 0l7.2 -7.2M472 157.5h10m-5 -5v10m-3.6 -8.6l7.2 7.2m-7.2 0l7.2 -7.2M469.9 160.2h10m-5 -5v10m-3.6 -8.6l7.2 7.2m-7.2 0l7.2 -7.2M470.8 161.6h10m-5 -5v10m-3.6 -8.6l7.2 7.2m-7.2 0l7.2 -7.2M468.7 163.3h10m-5 -5v10m-3.6 -8.6l7.2 7.2m-7.2 0l7.2 -7.2M468.1 165h10m-5 -5v10m-3.6 -8.6l7.2 7.2m-7.2 0l7.2 -7.2M466.1 166.5h10m-5 -5v10m-3.6 -8.6l7.2 7.2m-7.2 0l7.2 -7.2M456.3 170.4h10m-5 -5v10m-3.6 -8.6l7.2 7.2m-7.2 0l7.2 -7.2M456.6 169.8h10m-5 -5v10m-3.6 -8.6l7.2 7.2m-7.2 0l7.2 -7.2M458.7 168.8h10m-5 -5v10m-3.6 -8.6l7.2 7.2m-7.2 0l7.2 -7.2M451 158.3h10m-5 -5v10m-3.6 -8.6l7.2 7.2m-7.2 0l7.2 -7.2M447.7 157.7h10m-5 -5v10m-3.6 -8.6l7.2 7.2m-7.2 0l7.2 -7.2M450.8 161.8h10m-5 -5v10m-3.6 -8.6l7.2 7.2m-7.2 0l7.2 -7.2M452 160.2h10m-5 -5v10m-3.6 -8.6l7.2 7.2m-7.2 0l7.2 -7.2M454 191.7h10m-5 -5v10m-3.6 -8.6l7.2 7.2m-7.2 0l7.2 -7.2M457.8 202.7h10m-5 -5v10m-3.6 -8.6l7.2 7.2m-7.2 0l7.2 -7.2M452.1 197.1h10m-5 -5v10m-3.6 -8.6l7.2 7.2m-7.2 0l7.2 -7.2M454.9 196.7h10m-5 -5v10m-3.6 -8.6l7.2 7.2m-7.2 0l7.2 -7.2M446.2 196.6h10m-5 -5v10m-3.6 -8.6l7.2 7.2m-7.2 0l7.2 -7.2M456.4 197.8h10m-5 -5v10m-3.6 -8.6l7.2 7.2m-7.2 0l7.2 -7.2M447.4 204.7h10m-5 -5v10m-3.6 -8.6l7.2 7.2m-7.2 0l7.2 -7.2M448 192h10m-5 -5v10m-3.6 -8.6l7.2 7.2m-7.2 0l7.2 -7.2M432 213h10m-5 -5v10m-3.6 -8.6l7.2 7.2m-7.2 0l7.2 -7.2M438.9 209.4h10m-5 -5v10m-3.6 -8.6l7.2 7.2m-7.2 0l7.2 -7.2M437.7 205.9h10m-5 -5v10m-3.6 -8.6l7.2 7.2m-7.2 0l7.2 -7.2M432.4 217.6h10m-5 -5v10m-3.6 -8.6l7.2 7.2m-7.2 0l7.2 -7.2M436.4 208.5h10m-5 -5v10m-3.6 -8.6l7.2 7.2m-7.2 0l7.2 -7.2M440.8 212.7h10m-5 -5v10m-3.6 -8.6l7.2 7.2m-7.2 0l7.2 -7.2M443.2 207.5h10m-5 -5v10m-3.6 -8.6l7.2 7.2m-7.2 0l7.2 -7.2M448.7 233.7h10m-5 -5v10m-3.6 -8.6l7.2 7.2m-7.2 0l7.2 -7.2M448.1 236h10m-5 -5v10m-3.6 -8.6l7.2 7.2m-7.2 0l7.2 -7.2M451.9 237.6h10m-5 -5v10m-3.6 -8.6l7.2 7.2m-7.2 0l7.2 -7.2M454.6 238.1h10m-5 -5v10m-3.6 -8.6l7.2 7.2m-7.2 0l7.2 -7.2M455.9 239.8h10m-5 -5v10m-3.6 -8.6l7.2 7.2m-7.2 0l7.2 -7.2M456.9 239.1h10m-5 -5v10m-3.6 -8.6l7.2 7.2m-7.2 0l7.2 -7.2M468.9 240.3h10m-5 -5v10m-3.6 -8.6l7.2 7.2m-7.2 0l7.2 -7.2M462.8 246.8h10m-5 -5v10m-3.6 -8.6l7.2 7.2m-7.2 0l7.2 -7.2M469.6 247.3h10m-5 -5v10m-3.6 -8.6l7.2 7.2m-7.2 0l7.2 -7.2M459.5 247.8h10m-5 -5v10m-3.6 -8.6l7.2 7.2m-7.2 0l7.2 -7.2M466.9 241h10m-5 -5v10m-3.6 -8.6l7.2 7.2m-7.2 0l7.2 -7.2M469.7 250.4h10m-5 -5v10m-3.6 -8.6l7.2 7.2m-7.2 0l7.2 -7.2M470.3 246.5h10m-5 -5v10m-3.6 -8.6l7.2 7.2m-7.2 0l7.2 -7.2M469.8 252.5h10m-5 -5v10m-3.6 -8.6l7.2 7.2m-7.2 0l7.2 -7.2M460.8 247.3h10m-5 -5v10m-3.6 -8.6l7.2 7.2m-7.2 0l7.2 -7.2M468.5 239h10m-5 -5v10m-3.6 -8.6l7.2 7.2m-7.2 0l7.2 -7.2M450.8 265.1h10m-5 -5v10m-3.6 -8.6l7.2 7.2m-7.2 0l7.2 -7.2M448.5 274h10m-5 -5v10m-3.6 -8.6l7.2 7.2m-7.2 0l7.2 -7.2M443.2 270.5h10m-5 -5v10m-3.6 -8.6l7.2 7.2m-7.2 0l7.2 -7.2M450 260.7h10m-5 -5v10m-3.6 -8.6l7.2 7.2m-7.2 0l7.2 -7.2M449.6 271.1h10m-5 -5v10m-3.6 -8.6l7.2 7.2m-7.2 0l7.2 -7.2M442.5 263.1h10m-5 -5v10m-3.6 -8.6l7.2 7.2m-7.2 0l7.2 -7.2M417.4 301.3h10m-5 -5v10m-3.6 -8.6l7.2 7.2m-7.2 0l7.2 -7.2M418.3 299.5h10m-5 -5v10m-3.6 -8.6l7.2 7.2m-7.2 0l7.2 -7.2M414 301h10m-5 -5v10m-3.6 -8.6l7.2 7.2m-7.2 0l7.2 -7.2M414.6 302.3h10m-5 -5v10m-3.6 -8.6l7.2 7.2m-7.2 0l7.2 -7.2M419.5 298.7h10m-5 -5v10m-3.6 -8.6l7.2 7.2m-7.2 0l7.2 -7.2M442.6 321.7h10m-5 -5v10m-3.6 -8.6l7.2 7.2m-7.2 0l7.2 -7.2M447.4 321.6h10m-5 -5v10m-3.6 -8.6l7.2 7.2m-7.2 0l7.2 -7.2M448.2 325.3h10m-5 -5v10m-3.6 -8.6l7.2 7.2m-7.2 0l7.2 -7.2M448.9 322.7h10m-5 -5v10m-3.6 -8.6l7.2 7.2m-7.2 0l7.2 -7.2M442.5 322.3h10m-5 -5v10m-3.6 -8.6l7.2 7.2m-7.2 0l7.2 -7.2M444.8 325.8h10m-5 -5v10m-3.6 -8.6l7.2 7.2m-7.2 0l7.2 -7.2M445.4 356.4h10m-5 -5v10m-3.6 -8.6l7.2 7.2m-7.2 0l7.2 -7.2M443.2 359.4h10m-5 -5v10m-3.6 -8.6l7.2 7.2m-7.2 0l7.2 -7.2M441.9 366.1h10m-5 -5v10m-3.6 -8.6l7.2 7.2m-7.2 0l7.2 -7.2M436.9 352.1h10m-5 -5v10m-3.6 -8.6l7.2 7.2m-7.2 0l7.2 -7.2M439.2 365.9h10m-5 -5v10m-3.6 -8.6l7.2 7.2m-7.2 0l7.2 -7.2M431.8 356.1h10m-5 -5v10m-3.6 -8.6l7.2 7.2m-7.2 0l7.2 -7.2M438.3 365h10m-5 -5v10m-3.6 -8.6l7.2 7.2m-7.2 0l7.2 -7.2M441.2 364.1h10m-5 -5v10m-3.6 -8.6l7.2 7.2m-7.2 0l7.2 -7.2M443.1 343.3h10m-5 -5v10m-3.6 -8.6l7.2 7.2m-7.2 0l7.2 -7.2M432.4 361.4h10m-5 -5v10m-3.6 -8.6l7.2 7.2m-7.2 0l7.2 -7.2M437.7 341.9h10m-5 -5v10m-3.6 -8.6l7.2 7.2m-7.2 0l7.2 -7.2M441.3 349.5h10m-5 -5v10m-3.6 -8.6l7.2 7.2m-7.2 0l7.2 -7.2M434.6 350.5h10m-5 -5v10m-3.6 -8.6l7.2 7.2m-7.2 0l7.2 -7.2M443.5 360.9h10m-5 -5v10m-3.6 -8.6l7.2 7.2m-7.2 0l7.2 -7.2M433 351.4h10m-5 -5v10m-3.6 -8.6l7.2 7.2m-7.2 0l7.2 -7.2M437.4 368.1h10m-5 -5v10m-3.6 -8.6l7.2 7.2m-7.2 0l7.2 -7.2M446.4 356h10m-5 -5v10m-3.6 -8.6l7.2 7.2m-7.2 0l7.2 -7.2M432.2 354.4h10m-5 -5v10m-3.6 -8.6l7.2 7.2m-7.2 0l7.2 -7.2M433.6 381.6h10m-5 -5v10m-3.6 -8.6l7.2 7.2m-7.2 0l7.2 -7.2M428.2 368.9h10m-5 -5v10m-3.6 -8.6l7.2 7.2m-7.2 0l7.2 -7.2M427.3 378h10m-5 -5v10m-3.6 -8.6l7.2 7.2m-7.2 0l7.2 -7.2M434.7 376.5h10m-5 -5v10m-3.6 -8.6l7.2 7.2m-7.2 0l7.2 -7.2M430.7 365.3h10m-5 -5v10m-3.6 -8.6l7.2 7.2m-7.2 0l7.2 -7.2M429.5 382.8h10m-5 -5v10m-3.6 -8.6l7.2 7.2m-7.2 0l7.2 -7.2M426.5 364.1h10m-5 -5v10m-3.6 -8.6l7.2 7.2m-7.2 0l7.2 -7.2M435.6 375.1h10m-5 -5v10m-3.6 -8.6l7.2 7.2m-7.2 0l7.2 -7.2M425 368.1h10m-5 -5v10m-3.6 -8.6l7.2 7.2m-7.2 0l7.2 -7.2M425.1 384h10m-5 -5v10m-3.6 -8.6l7.2 7.2m-7.2 0l7.2 -7.2M428.1 378.4h10m-5 -5v10m-3.6 -8.6l7.2 7.2m-7.2 0l7.2 -7.2M428.1 376.3h10m-5 -5v10m-3.6 -8.6l7.2 7.2m-7.2 0l7.2 -7.2M446 391.6h10m-5 -5v10m-3.6 -8.6l7.2 7.2m-7.2 0l7.2 -7.2M444.8 393.2h10m-5 -5v10m-3.6 -8.6l7.2 7.2m-7.2 0l7.2 -7.2M445.4 397.4h10m-5 -5v10m-3.6 -8.6l7.2 7.2m-7.2 0l7.2 -7.2M447.4 399.5h10m-5 -5v10m-3.6 -8.6l7.2 7.2m-7.2 0l7.2 -7.2M444.6 393.2h10m-5 -5v10m-3.6 -8.6l7.2 7.2m-7.2 0l7.2 -7.2M443.7 393.9h10m-5 -5v10m-3.6 -8.6l7.2 7.2m-7.2 0l7.2 -7.2M450.8 390.6h10m-5 -5v10m-3.6 -8.6l7.2 7.2m-7.2 0l7.2 -7.2M449.2 392.8h10m-5 -5v10m-3.6 -8.6l7.2 7.2m-7.2 0l7.2 -7.2M452.5 400h10m-5 -5v10m-3.6 -8.6l7.2 7.2m-7.2 0l7.2 -7.2M459.4 402.5h10m-5 -5v10m-3.6 -8.6l7.2 7.2m-7.2 0l7.2 -7.2M459.4 403.1h10m-5 -5v10m-3.6 -8.6l7.2 7.2m-7.2 0l7.2 -7.2M461.3 404.2h10m-5 -5v10m-3.6 -8.6l7.2 7.2m-7.2 0l7.2 -7.2M462 405.2h10m-5 -5v10m-3.6 -8.6l7.2 7.2m-7.2 0l7.2 -7.2M460.4 402.9h10m-5 -5v10m-3.6 -8.6l7.2 7.2m-7.2 0l7.2 -7.2M458 401.3h10m-5 -5v10m-3.6 -8.6l7.2 7.2m-7.2 0l7.2 -7.2" stroke="#ff0000" stroke-width="1.5" fill="none"/>
<path d="M473.2 51.5h10m-5 -5v10m-3.6 -8.6l7.2 7.2m-7.2 0l7.2 -7.2M474 55.8h10m-5 -5v10m-3.6 -8.6l7.2 7.2m-7.2 0l7.2 -7.2M479.6 57.1h10m-5 -5v10m-3.6 -8.6l7.2 7.2m-7.2 0l7.2 -7.2M469 51.9h10m-5 -5v10m-3.6 -8.6l7.2 7.2m-7.2 0l7.2 -7.2M472.7 53.1h10m-5 -5v10m-3.6 -8.6l7.2 7.2m-7.2 0l7.2 -7.2M471.8 55.5h10m-5 -5v10m-3.6 -8.6l7.2 7.2m-7.2 0l7.2 -7.2M439 71.2h10m-5 -5v10m-3.6 -8.6l7.2 7.2m-7.2 0l7.2 -7.2M438.1 78.7h10m-5 -5v10m-3.6 -8.6l7.2 7.2m-7.2 0l7.2 -7.2M461.7 89h10m-5 -5v10m-3.6 -8.6l7.2 7.2m-7.2 0l7.2 -7.2M467.5 79.8h10m-5 -5v10m-3.6 -8.6l7.2 7.2m-7.2 0l7.2 -7.2M454.6 75.5h10m-5 -5v10m-3.6 -8.6l7.2 7.2m-7.2 0l7.2 -7.2M467.4 79.9h10m-5 -5v10m-3.6 -8.6l7.2 7.2m-7.2 0l7.2 -7.2M459.8 80h10m-5 -5v10m-3.6 -8.6l7.2 7.2m-7.2 0l7.2 -7.2M458.7 75.4h10m-5 -5v10m-3.6 -8.6l7.2 7.2m-7.2 0l7.2 -7.2M449.4 78.3h10m-5 -5v10m-3.6 -8.6l7.2 7.2m-7.2 0l7.2 -7.2M466.3 77.5h10m-5 -5v10m-3.6 -8.6l7.2 7.2m-7.2 0l7.2 -7.2M464.1 76.5h10m-5 -5v10m-3.6 -8.6l7.2 7.2m-7.2 0l7.2 -7.2M456 88.9h10m-5 -5v10m-3.6 -8.6l7.2 7.2m-7.2 0l7.2 -7.2M410.8 65.5h10m-5 -5v10m-3.6 -8.6l7.2 7.2m-7.2 0l7.2 -7.2M410.4 73.6h10m-5 -5v10m-3.6 -8.6l7.2 7.2m-7.2 0l7.2 -7.2M406 76.6h10m-5 -5v10m-3.6 -8.6l7.2 7.2m-7.2 0l7.2 -7.2M412.3 76.3h10m-5 -5v10m-3.6 -8.6l7.2 7.2m-7.2 0l7.2 -7.2M415.2 76.6h10m-5 -5v10m-3.6 -8.6l7.2 7.2m-7.2 0l7.2 -7.2M402.1 66.9h10m-5 -5v10m-3.6 -8.6l7.2 7.2m-7.2 0l7.2 -7.2M402.3 74.6h10m-5 -5v10m-3.6 -8.6l7.2 7.2m-7.2 0l7.2 -7.2M414.2 75.1h10m-5 -5v10m-3.6 -8.6l7.2 7.2m-7.2 0l7.2 -7.2M401.5 70.6h10m-5 -5v10m-3.6 -8.6l7.2 7.2m-7.2 0l7.2 -7.2M407.3 73.4h10m-5 -5v10m-3.6 -8.6l7.2 7.2m-7.2 0l7.2 -7.2M418.4 65.4h10m-5 -5v10m-3.6 -8.6l7.2 7.2m-7.2 0l7.2 -7.2M405 66.9h10m-5 -5v10m-3.6 -8.6l7.2 7.2m-7.2 0l7.2 -7.2M395.7 65.7h10m-5 -5v10m-3.6 -8.6l7.2 7.2m-7.2 0l7.2 -7.2M394.1 64.6h10m-5 -5v10m-3.6 -8.6l7.2 7.2m-7.2 0l7.2 -7.2M432 60h10m-5 -5v10m-3.6 -8.6l7.2 7.2m-7.2 0l7.2 -7.2M435.5 90h10m-5 -5v10m-3.6 -8.6l7.2 7.2m-7.2 0l7.2 -7.2M432.2 90.9h10m-5 -5v10m-3.6 -8.6l7.2 7.2m-7.2 0l7.2 -7.2M425.6 92.4h10m-5 -5v10m-3.6 -8.6l7.2 7.2m-7.2 0l7.2 -7.2M419.7 93h10m-5 -5v10m-3.6 -8.6l7.2 7.2m-7.2 0l7.2 -7.2M412.6 94.2h10m-5 -5v10m-3.6 -8.6l7.2 7.2m-7.2 0l7.2 -7.2M406 95.8h10m-5 -5v10m-3.6 -8.6l7.2 7.2m-7.2 0l7.2 -7.2M402.9 96.4h10m-5 -5v10m-3.6 -8.6l7.2 7.2m-7.2 0l7.2 -7.2M400.2 98h10m-5 -5v10m-3.6 -8.6l7.2 7.2m-7.2 0l7.2 -7.2M396.3 98.5h10m-5 -5v10m-3.6 -8.6l7.2 7.2m-7.2 0l7.2 -7.2M394.1 98.9h10m-5 -5v10m-3.6 -8.6l7.2 7.2m-7.2 0l7.2 -7.2M390.6 100.4h10m-5 -5v10m-3.6 -8.6l7.2 7.2m-7.2 0l7.2 -7.2M387.3 100.4h10m-5 -5v10m-3.6 -8.6l7.2 7.2m-7.2 0l7.2 -7.2M372 104.5h10m-5 -5v10m-3.6 -8.6l7.2 7.2m-7.2 0l7.2 -7.2M341.1 140.5h10m-5 -5v10m-3.6 -8.6l7.2 7.2m-7.2 0l7.2 -7.2M348 105.4h10m-5 -5v10m-3.6 -8.6l7.2 7.2m-7.2 0l7.2 -7.2M337.7 119.6h10m-5 -5v10m-3.6 -8.6l7.2 7.2m-7.2 0l7.2 -7.2M344.5 125.3h10m-5 -5v10m-3.6 -8.6l7.2 7.2m-7.2 0l7.2 -7.2M343.3 136.9h10m-5 -5v10m-3.6 -8.6l7.2 7.2m-7.2 0l7.2 -7.2M344.3 142.9h10m-5 -5v10m-3.6 -8.6l7.2 7.2m-7.2 0l7.2 -7.2M347.2 129h10m-5 -5v10m-3.6 -8.6l7.2 7.2m-7.2 0l7.2 -7.2M341.7 145.9h10m-5 -5v10m-3.6 -8.6l7.2 7.2m-7.2 0l7.2 -7.2M349.4 143.8h10m-5 -5v10m-3.6 -8.6l7.2 7.2m-7.2 0l7.2 -7.2M334.8 128.9h10m-5 -5v10m-3.6 -8.6l7.2 7.2m-7.2 0l7.2 -7.2M344.3 141.8h10m-5 -5v10m-3.6 -8.6l7.2 7.2m-7.2 0l7.2 -7.2M350.8 143h10m-5 -5v10m-3.6 -8.6l7.2 7.2m-7.2 0l7.2 -7.2M348.2 119.5h10m-5 -5v10m-3.6 -8.6l7.2 7.2m-7.2 0l7.2 -7.2M342.9 138.7h10m-5 -5v10m-3.6 -8.6l7.2 7.2m-7.2 0l7.2 -7.2M344.2 112h10m-5 -5v10m-3.6 -8.6l7.2 7.2m-7.2 0l7.2 -7.2M338.7 133.2h10m-5 -5v10m-3.6 -8.6l7.2 7.2m-7.2 0l7.2 -7.2M344.3 136.8h10m-5 -5v10m-3.6 -8.6l7.2 7.2m-7.2 0l7.2 -7.2M336.1 141.4h10m-5 -5v10m-3.6 -8.6l7.2 7.2m-7.2 0l7.2 -7.2M339.3 124.8h10m-5 -5v10m-3.6 -8.6l7.2 7.2m-7.2 0l7.2 -7.2M344.5 145.2h10m-5 -5v10m-3.6 -8.6l7.2 7.2m-7.2 0l7.2 -7.2M347.1 104.5h10m-5 -5v10m-3.6 -8.6l7.2 7.2m-7.2 0l7.2 -7.2M352 112h10m-5 -5v10m-3.6 -8.6l7.2 7.2m-7.2 0l7.2 -7.2M349.3 137.9h10m-5 -5v10m-3.6 -8.6l7.2 7.2m-7.2 0l7.2 -7.2M336.4 142.2h10m-5 -5v10m-3.6 -8.6l7.2 7.2m-7.2 0l7.2 -7.2M342.6 131.5h10m-5 -5v10m-3.6 -8.6l7.2 7.2m-7.2 0l7.2 -7.2M353.3 133.3h10m-5 -5v10m-3.6 -8.6l7.2 7.2m-7.2 0l7.2 -7.2M351.5 143.6h10m-5 -5v10m-3.6 -8.6l7.2 7.2m-7.2 0l7.2 -7.2M355.5 137h10m-5 -5v10m-3.6 -8.6l7.2 7.2m-7.2 0l7.2 -7.2M361.4 105.3h10m-5 -5v10m-3.6 -8.6l7.2 7.2m-7.2 0l7.2 -7.2M336 147h10m-5 -5v10m-3.6 -8.6l7.2 7.2m-7.2 0l7.2 -7.2M310.5 148.5h10m-5 -5v10m-3.6 -8.6l7.2 7.2m-7.2 0l7.2 -7.2M308.5 161.5h10m-5 -5v10m-3.6 -8.6l7.2 7.2m-7.2 0l7.2 -7.2M327 164h10m-5 -5v10m-3.6 -8.6l7.2 7.2m-7.2 0l7.2 -7.2M343.7 165h10m-5 -5v10m-3.6 -8.6l7.2 7.2m-7.2 0l7.2 -7.2M361.5 166h10m-5 -5v10m-3.6 -8.6l7.2 7.2m-7.2 0l7.2 -7.2M368.7 167.4h10m-5 -5v10m-3.6 -8.6l7.2 7.2m-7.2 0l7.2 -7.2M373.3 168.6h10m-5 -5v10m-3.6 -8.6l7.2 7.2m-7.2 0l7.2 -7.2M375.9 168.5h10m-5 -5v10m-3.6 -8.6l7.2 7.2m-7.2 0l7.2 -7.2M379.9 172.5h10m-5 -5v10m-3.6 -8.6l7.2 7.2m-7.2 0l7.2 -7.2M385.4 172.5h10m-5 -5v10m-3.6 -8.6l7.2 7.2m-7.2 0l7.2 -7.2M393.2 175.3h10m-5 -5v10m-3.6 -8.6l7.2 7.2m-7.2 0l7.2 -7.2M401.2 176.7h10m-5 -5v10m-3.6 -8.6l7.2 7.2m-7.2 0l7.2 -7.2M409 179.7h10m-5 -5v10m-3.6 -8.6l7.2 7.2m-7.2 0l7.2 -7.2M341.4 186.4h10m-5 -5v10m-3.6 -8.6l7.2 7.2m-7.2 0l7.2 -7.2M334.6 186.2h10m-5 -5v10m-3.6 -8.6l7.2 7.2m-7.2 0l7.2 -7.2M333 189.2h10m-5 -5v10m-3.6 -8.6l7.2 7.2m-7.2 0l7.2 -7.2M325.2 187.4h10m-5 -5v10m-3.6 -8.6l7.2 7.2m-7.2 0l7.2 -7.2M320.1 191.2h10m-5 -5v10m-3.6 -8.6l7.2 7.2m-7.2 0l7.2 -7.2M325.8 194.9h10m-5 -5v10m-3.6 -8.6l7.2 7.2m-7.2 0l7.2 -7.2M319.4 195.9h10m-5 -5v10m-3.6 -8.6l7.2 7.2m-7.2 0l7.2 -7.2M320.1 190.6h10m-5 -5v10m-3.6 -8.6l7.2 7.2m-7.2 0l7.2 -7.2M322.9 190.9h10m-5 -5v10m-3.6 -8.6l7.2 7.2m-7.2 0l7.2 -7.2M292.3 201.8h10m-5 -5v10m-3.6 -8.6l7.2 7.2m-7.2 0l7.2 -7.2M303.2 201h10m-5 -5v10m-3.6 -8.6l7.2 7.2m-7.2 0l7.2 -7.2M305 205.5h10m-5 -5v10m-3.6 -8.6l7.2 7.2m-7.2 0l7.2 -7.2M313.2 197.3h10m-5 -5v10m-3.6 -8.6l7.2 7.2m-7.2 0l7.2 -7.2M298 203h10m-5 -5v10m-3.6 -8.6l7.2 7.2m-7.2 0l7.2 -7.2M317 200h10m-5 -5v10m-3.6 -8.6l7.2 7.2m-7.2 0l7.2 -7.2M342.3 212h10m-5 -5v10m-3.6 -8.6l7.2 7.2m-7.2 0l7.2 -7.2M335.4 212.8h10m-5 -5v10m-3.6 -8.6l7.2 7.2m-7.2 0l7.2 -7.2M344.3 215.4h10m-5 -5v10m-3.6 -8.6l7.2 7.2m-7.2 0l7.2 -7.2M338.4 216.5h10m-5 -5v10m-3.6 -8.6l7.2 7.2m-7.2 0l7.2 -7.2M340.6 213.2h10m-5 -5v10m-3.6 -8.6l7.2 7.2m-7.2 0l7.2 -7.2M331.6 213.3h10m-5 -5v10m-3.6 -8.6l7.2 7.2m-7.2 0l7.2 -7.2M328.7 216.8h10m-5 -5v10m-3.6 -8.6l7.2 7.2m-7.2 0l7.2 -7.2M325.4 221.2h10m-5 -5v10m-3.6 -8.6l7.2 7.2m-7.2 0l7.2 -7.2M319.6 225.4h10m-5 -5v10m-3.6 -8.6l7.2 7.2m-7.2 0l7.2 -7.2M320.2 221.9h10m-5 -5v10m-3.6 -8.6l7.2 7.2m-7.2 0l7.2 -7.2M314 226.1h10m-5 -5v10m-3.6 -8.6l7.2 7.2m-7.2 0l7.2 -7.2M316.3 223.5h10m-5 -5v10m-3.6 -8.6l7.2 7.2m-7.2 0l7.2 -7.2M311.7 225.4h10m-5 -5v10m-3.6 -8.6l7.2 7.2m-7.2 0l7.2 -7.2M311.5 229.3h10m-5 -5v10m-3.6 -8.6l7.2 7.2m-7.2 0l7.2 -7.2M309.5 229.1h10m-5 -5v10m-3.6 -8.6l7.2 7.2m-7.2 0l7.2 -7.2M272.3 238h10m-5 -5v10m-3.6 -8.6l7.2 7.2m-7.2 0l7.2 -7.2M279.5 236.4h10m-5 -5v10m-3.6 -8.6l7.2 7.2m-7.2 0l7.2 -7.2M286.8 238h10m-5 -5v10m-3.6 -8.6l7.2 7.2m-7.2 0l7.2 -7.2M288.6 232.7h10m-5 -5v10m-3.6 -8.6l7.2 7.2m-7.2 0l7.2 -7.2M300.5 242.7h10m-5 -5v10m-3.6 -8.6l7.2 7.2m-7.2 0l7.2 -7.2M315.4 244.4h10m-5 -5v10m-3.6 -8.6l7.2 7.2m-7.2 0l7.2 -7.2M331 247h10m-5 -5v10m-3.6 -8.6l7.2 7.2m-7.2 0l7.2 -7.2M349 249.8h10m-5 -5v10m-3.6 -8.6l7.2 7.2m-7.2 0l7.2 -7.2M360.3 259.8h10m-5 -5v10m-3.6 -8.6l7.2 7.2m-7.2 0l7.2 -7.2M371.8 254.6h10m-5 -5v10m-3.6 -8.6l7.2 7.2m-7.2 0l7.2 -7.2M366 257.7h10m-5 -5v10m-3.6 -8.6l7.2 7.2m-7.2 0l7.2 -7.2M343 261h10m-5 -5v10m-3.6 -8.6l7.2 7.2m-7.2 0l7.2 -7.2M321 263.5h10m-5 -5v10m-3.6 -8.6l7.2 7.2m-7.2 0l7.2 -7.2M293.8 272.1h10m-5 -5v10m-3.6 -8.6l7.2 7.2m-7.2 0l7.2 -7.2M303.1 270h10m-5 -5v10m-3.6 -8.6l7.2 7.2m-7.2 0l7.2 -7.2M299.3 278h10m-5 -5v10m-3.6 -8.6l7.2 7.2m-7.2 0l7.2 -7.2M294.5 264.9h10m-5 -5v10m-3.6 -8.6l7.2 7.2m-7.2 0l7.2 -7.2M296.7 268.2h10m-5 -5v10m-3.6 -8.6l7.2 7.2m-7.2 0l7.2 -7.2M300.8 278.3h10m-5 -5v10m-3.6 -8.6l7.2 7.2m-7.2 0l7.2 -7.2M298.2 266.7h10m-5 -5v10m-3.6 -8.6l7.2 7.2m-7.2 0l7.2 -7.2M304.8 276h10m-5 -5v10m-3.6 -8.6l7.2 7.2m-7.2 0l7.2 -7.2M296.2 274.9h10m-5 -5v10m-3.6 -8.6l7.2 7.2m-7.2 0l7.2 -7.2M315.4 281.5h10m-5 -5v10m-3.6 -8.6l7.2 7.2m-7.2 0l7.2 -7.2M319.7 291.3h10m-5 -5v10m-3.6 -8.6l7.2 7.2m-7.2 0l7.2 -7.2M347.9 287.2h10m-5 -5v10m-3.6 -8.6l7.2 7.2m-7.2 0l7.2 -7.2M347.1 287.1h10m-5 -5v10m-3.6 -8.6l7.2 7.2m-7.2 0l7.2 -7.2M337.4 289.5h10m-5 -5v10m-3.6 -8.6l7.2 7.2m-7.2 0l7.2 -7.2M334.2 289.1h10m-5 -5v10m-3.6 -8.6l7.2 7.2m-7.2 0l7.2 -7.2M341.8 290.2h10m-5 -5v10m-3.6 -8.6l7.2 7.2m-7.2 0l7.2 -7.2M342.8 289.2h10m-5 -5v10m-3.6 -8.6l7.2 7.2m-7.2 0l7.2 -7.2M341.9 289.3h10m-5 -5v10m-3.6 -8.6l7.2 7.2m-7.2 0l7.2 -7.2M284.7 292.6h10m-5 -5v10m-3.6 -8.6l7.2 7.2m-7.2 0l7.2 -7.2M253.3 298h10m-5 -5v10m-3.6 -8.6l7.2 7.2m-7.2 0l7.2 -7.2M261.1 301.6h10m-5 -5v10m-3.6 -8.6l7.2 7.2m-7.2 0l7.2 -7.2M269.7 297.5h10m-5 -5v10m-3.6 -8.6l7.2 7.2m-7.2 0l7.2 -7.2M272.8 294.6h10m-5 -5v10m-3.6 -8.6l7.2 7.2m-7.2 0l7.2 -7.2M254.9 300.7h10m-5 -5v10m-3.6 -8.6l7.2 7.2m-7.2 0l7.2 -7.2M269.3 293.6h10m-5 -5v10m-3.6 -8.6l7.2 7.2m-7.2 0l7.2 -7.2M253.2 294.6h10m-5 -5v10m-3.6 -8.6l7.2 7.2m-7.2 0l7.2 -7.2M282.5 302.5h10m-5 -5v10m-3.6 -8.6l7.2 7.2m-7.2 0l7.2 -7.2M307.4 311.6h10m-5 -5v10m-3.6 -8.6l7.2 7.2m-7.2 0l7.2 -7.2M318.1 307.8h10m-5 -5v10m-3.6 -8.6l7.2 7.2m-7.2 0l7.2 -7.2M311.2 303h10m-5 -5v10m-3.6 -8.6l7.2 7.2m-7.2 0l7.2 -7.2M311.3 305.7h10m-5 -5v10m-3.6 -8.6l7.2 7.2m-7.2 0l7.2 -7.2M307.4 306.3h10m-5 -5v10m-3.6 -8.6l7.2 7.2m-7.2 0l7.2 -7.2M326.9 312.4h10m-5 -5v10m-3.6 -8.6l7.2 7.2m-7.2 0l7.2 -7.2M322 313.6h10m-5 -5v10m-3.6 -8.6l7.2 7.2m-7.2 0l7.2 -7.2M323.6 312.4h10m-5 -5v10m-3.6 -8.6l7.2 7.2m-7.2 0l7.2 -7.2M291.3 324.3h10m-5 -5v10m-3.6 -8.6l7.2 7.2m-7.2 0l7.2 -7.2M301 325.4h10m-5 -5v10m-3.6 -8.6l7.2 7.2m-7.2 0l7.2 -7.2M309.8 326.5h10m-5 -5v10m-3.6 -8.6l7.2 7.2m-7.2 0l7.2 -7.2M295 328h10m-5 -5v10m-3.6 -8.6l7.2 7.2m-7.2 0l7.2 -7.2M343.6 327.7h10m-5 -5v10m-3.6 -8.6l7.2 7.2m-7.2 0l7.2 -7.2M318.2 333h10m-5 -5v10m-3.6 -8.6l7.2 7.2m-7.2 0l7.2 -7.2M330.1 333.4h10m-5 -5v10m-3.6 -8.6l7.2 7.2m-7.2 0l7.2 -7.2M338.3 336.3h10m-5 -5v10m-3.6 -8.6l7.2 7.2m-7.2 0l7.2 -7.2M328.1 341.3h10m-5 -5v10m-3.6 -8.6l7.2 7.2m-7.2 0l7.2 -7.2M326 338.2h10m-5 -5v10m-3.6 -8.6l7.2 7.2m-7.2 0l7.2 -7.2M314.5 344.5h10m-5 -5v10m-3.6 -8.6l7.2 7.2m-7.2 0l7.2 -7.2M293.2 346.8h10m-5 -5v10m-3.6 -8.6l7.2 7.2m-7.2 0l7.2 -7.2M257.2 357.8h10m-5 -5v10m-3.6 -8.6l7.2 7.2m-7.2 0l7.2 -7.2M272.3 349.2h10m-5 -5v10m-3.6 -8.6l7.2 7.2m-7.2 0l7.2 -7.2M262.8 347h10m-5 -5v10m-3.6 -8.6l7.2 7.2m-7.2 0l7.2 -7.2M264.2 347.8h10m-5 -5v10m-3.6 -8.6l7.2 7.2m-7.2 0l7.2 -7.2M272.3 357.5h10m-5 -5v10m-3.6 -8.6l7.2 7.2m-7.2 0l7.2 -7.2M269.9 358.5h10m-5 -5v10m-3.6 -8.6l7.2 7.2m-7.2 0l7.2 -7.2M265.8 348h10m-5 -5v10m-3.6 -8.6l7.2 7.2m-7.2 0l7.2 -7.2M263.9 357.5h10m-5 -5v10m-3.6 -8.6l7.2 7.2m-7.2 0l7.2 -7.2M276.8 357.1h10m-5 -5v10m-3.6 -8.6l7.2 7.2m-7.2 0l7.2 -7.2M290.9 369.5h10m-5 -5v10m-3.6 -8.6l7.2 7.2m-7.2 0l7.2 -7.2M289.1 360.3h10m-5 -5v10m-3.6 -8.6l7.2 7.2m-7.2 0l7.2 -7.2M289 359.3h10m-5 -5v10m-3.6 -8.6l7.2 7.2m-7.2 0l7.2 -7.2M289.7 360.2h10m-5 -5v10m-3.6 -8.6l7.2 7.2m-7.2 0l7.2 -7.2M291.1 369.8h10m-5 -5v10m-3.6 -8.6l7.2 7.2m-7.2 0l7.2 -7.2M287.8 360.5h10m-5 -5v10m-3.6 -8.6l7.2 7.2m-7.2 0l7.2 -7.2M293.5 369.3h10m-5 -5v10m-3.6 -8.6l7.2 7.2m-7.2 0l7.2 -7.2M293.1 366.1h10m-5 -5v10m-3.6 -8.6l7.2 7.2m-7.2 0l7.2 -7.2M293.4 368.9h10m-5 -5v10m-3.6 -8.6l7.2 7.2m-7.2 0l7.2 -7.2M289.2 357.3h10m-5 -5v10m-3.6 -8.6l7.2 7.2m-7.2 0l7.2 -7.2M291.1 363.1h10m-5 -5v10m-3.6 -8.6l7.2 7.2m-7.2 0l7.2 -7.2M295.9 369.2h10m-5 -5v10m-3.6 -8.6l7.2 7.2m-7.2 0l7.2 -7.2M301.7 370.9h10m-5 -5v10m-3.6 -8.6l7.2 7.2m-7.2 0l7.2 -7.2M312.2 374.2h10m-5 -5v10m-3.6 -8.6l7.2 7.2m-7.2 0l7.2 -7.2M314.4 374.1h10m-5 -5v10m-3.6 -8.6l7.2 7.2m-7.2 0l7.2 -7.2M319.1 373.8h10m-5 -5v10m-3.6 -8.6l7.2 7.2m-7.2 0l7.2 -7.2M321.8 375.1h10m-5 -5v10m-3.6 -8.6l7.2 7.2m-7.2 0l7.2 -7.2M323.7 375.7h10m-5 -5v10m-3.6 -8.6l7.2 7.2m-7.2 0l7.2 -7.2M329.7 378.6h10m-5 -5v10m-3.6 -8.6l7.2 7.2m-7.2 0l7.2 -7.2M333.9 377.5h10m-5 -5v10m-3.6 -8.6l7.2 7.2m-7.2 0l7.2 -7.2M351 386.2h10m-5 -5v10m-3.6 -8.6l7.2 7.2m-7.2 0l7.2 -7.2M350.4 391.8h10m-5 -5v10m-3.6 -8.6l7.2 7.2m-7.2 0l7.2 -7.2M342.8 378.7h10m-5 -5v10m-3.6 -8.6l7.2 7.2m-7.2 0l7.2 -7.2M359 388.5h10m-5 -5v10m-3.6 -8.6l7.2 7.2m-7.2 0l7.2 -7.2M355.9 392.4h10m-5 -5v10m-3.6 -8.6l7.2 7.2m-7.2 0l7.2 -7.2M360.8 385.5h10m-5 -5v10m-3.6 -8.6l7.2 7.2m-7.2 0l7.2 -7.2M341.5 392.5h10m-5 -5v10m-3.6 -8.6l7.2 7.2m-7.2 0l7.2 -7.2M340 394h10m-5 -5v10m-3.6 -8.6l7.2 7.2m-7.2 0l7.2 -7.2M331.2 398.7h10m-5 -5v10m-3.6 -8.6l7.2 7.2m-7.2 0l7.2 -7.2M326.5 397.6h10m-5 -5v10m-3.6 -8.6l7.2 7.2m-7.2 0l7.2 -7.2M314.7 397.4h10m-5 -5v10m-3.6 -8.6l7.2 7.2m-7.2 0l7.2 -7.2M323.7 398.5h10m-5 -5v10m-3.6 -8.6l7.2 7.2m-7.2 0l7.2 -7.2M322.7 406.6h10m-5 -5v10m-3.6 -8.6l7.2 7.2m-7.2 0l7.2 -7.2M321.2 403h10m-5 -5v10m-3.6 -8.6l7.2 7.2m-7.2 0l7.2 -7.2M329.8 394.1h10m-5 -5v10m-3.6 -8.6l7.2 7.2m-7.2 0l7.2 -7.2M320.5 394.6h10m-5 -5v10m-3.6 -8.6l7.2 7.2m-7.2 0l7.2 -7.2M327.2 398.9h10m-5 -5v10m-3.6 -8.6l7.2 7.2m-7.2 0l7.2 -7.2" stroke="#00ffff" stroke-width="1.5" fill="none"/>
<path d="M470.9 53.6l7.6 7.6m-7.6 0l7.6 -7.6M466.7 50.2l7.6 7.6m-7.6 0l7.6 -7.6M471.8 50.3l7.6 7.6m-7.6 0l7.6 -7.6M472.1 53l7.6 7.6m-7.6 0l7.6 -7.6M471.8 48.1l7.6 7.6m-7.6 0l7.6 -7.6M473 54.7l7.6 7.6m-7.6 0l7.6 -7.6M466.6 53.3l7.6 7.6m-7.6 0l7.6 -7.6M463.3 51.2l7.6 7.6m-7.6 0l7.6 -7.6M475.5 50.1l7.6 7.6m-7.6 0l7.6 -7.6M473.3 47.7l7.6 7.6m-7.6 0l7.6 -7.6M467.3 47.7l7.6 7.6m-7.6 0l7.6 -7.6M484.7 47.7l7.6 7.6m-7.6 0l7.6 -7.6M448.3 48.3l7.6 7.6m-7.6 0l7.6 -7.6M461.5 53.6l7.6 7.6m-7.6 0l7.6 -7.6M437.2 57.1l7.6 7.6m-7.6 0l7.6 -7.6M440.8 59.6l7.6 7.6m-7.6 0l7.6 -7.6M441.6 74.6l7.6 7.6m-7.6 0l7.6 -7.6M462 79.1l7.6 7.6m-7.6 0l7.6 -7.6M470.6 78.7l7.6 7.6m-7.6 0l7.6 -7.6M463.8 83.9l7.6 7.6m-7.6 0l7.6 -7.6M465.5 72.1l7.6 7.6m-7.6 0l7.6 -7.6M469.9 76.3l7.6 7.6m-7.6 0l7.6 -7.6M451.3 80.1l7.6 7.6m-7.6 0l7.6 -7.6M410.2 61.1l7.6 7.6m-7.6 0l7.6 -7.6M415.8 65l7.6 7.6m-7.6 0l7.6 -7.6M416.1 59.6l7.6 7.6m-7.6 0l7.6 -7.6M407.1 66.5l7.6 7.6m-7.6 0l7.6 -7.6M412.9 60l7.6 7.6m-7.6 0l7.6 -7.6M414 63l7.6 7.6m-7.6 0l7.6 -7.6M412 64.1l7.6 7.6m-7.6 0l7.6 -7.6M417.5 72.3l7.6 7.6m-7.6 0l7.6 -7.6M406.7 62.4l7.6 7.6m-7.6 0l7.6 -7.6M405.7 67.7l7.6 7.6m-7.6 0l7.6 -7.6M422.7 58.8l7.6 7.6m-7.6 0l7.6 -7.6M428.2 57.2l7.6 7.6m-7.6 0l7.6 -7.6M422.7 70.8l7.6 7.6m-7.6 0l7.6 -7.6M443.3 85l7.6 7.6m-7.6 0l7.6 -7.6M440 85.8l7.6 7.6m-7.6 0l7.6 -7.6M430.7 87.2l7.6 7.6m-7.6 0l7.6 -7.6M424 88.5l7.6 7.6m-7.6 0l7.6 -7.6M417.3 90.1l7.6 7.6m-7.6 0l7.6 -7.6M411.2 91.3l7.6 7.6m-7.6 0l7.6 -7.6M385.5 97.5l7.6 7.6m-7.6 0l7.6 -7.6M381.4 98.8l7.6 7.6m-7.6 0l7.6 -7.6M344.5 101.8l7.6 7.6m-7.6 0l7.6 -7.6M342.1 110.9l7.6 7.6m-7.6 0l7.6 -7.6M350.7 107.4l7.6 7.6m-7.6 0l7.6 -7.6M351.4 130.2l7.6 7.6m-7.6 0l7.6 -7.6M346 117.1l7.6 7.6m-7.6 0l7.6 -7.6M343.5 129.6l7.6 7.6m-7.6 0l7.6 -7.6M338.8 105.8l7.6 7.6m-7.6 0l7.6 -7.6M334.7 111l7.6 7.6m-7.6 0l7.6 -7.6M347.2 140.3l7.6 7.6m-7.6 0l7.6 -7.6M348.7 115.8l7.6 7.6m-7.6 0l7.6 -7.6M341.5 129l7.6 7.6m-7.6 0l7.6 -7.6M350.6 116l7.6 7.6m-7.6 0l7.6 -7.6M334.4 123.9l7.6 7.6m-7.6 0l7.6 -7.6M344.8 100.6l7.6 7.6m-7.6 0l7.6 -7.6M336.4 125.7l7.6 7.6m-7.6 0l7.6 -7.6M341.4 136.1l7.6 7.6m-7.6 0l7.6 -7.6M352.9 125.7l7.6 7.6m-7.6 0l7.6 -7.6M336.8 113.6l7.6 7.6m-7.6 0l7.6 -7.6M347.9 100.7l7.6 7.6m-7.6 0l7.6 -7.6M344.5 109.4l7.6 7.6m-7.6 0l7.6 -7.6M342.4 124.6l7.6 7.6m-7.6 0l7.6 -7.6M339.3 115.9l7.6 7.6m-7.6 0l7.6 -7.6M352.3 137.9l7.6 7.6m-7.6 0l7.6 -7.6M340.8 110.2l7.6 7.6m-7.6 0l7.6 -7.6M351.7 138.1l7.6 7.6m-7.6 0l7.6 -7.6M353 129.3l7.6 7.6m-7.6 0l7.6 -7.6M342.5 135.7l7.6 7.6m-7.6 0l7.6 -7.6M343.8 123.7l7.6 7.6m-7.6 0l7.6 -7.6M345.2 110l7.6 7.6m-7.6 0l7.6 -7.6M353.1 110.7l7.6 7.6m-7.6 0l7.6 -7.6M355.5 137.6l7.6 7.6m-7.6 0l7.6 -7.6M355.3 138.7l7.6 7.6m-7.6 0l7.6 -7.6M358.2 132.8l7.6 7.6m-7.6 0l7.6 -7.6M369 101.5l7.6 7.6m-7.6 0l7.6 -7.6M327.8 143.7l7.6 7.6m-7.6 0l7.6 -7.6M296.2 157.2l7.6 7.6m-7.6 0l7.6 -7.6M318.2 158.6l7.6 7.6m-7.6 0l7.6 -7.6M337.2 160.2l7.6 7.6m-7.6 0l7.6 -7.6M357.2 162.2l7.6 7.6m-7.6 0l7.6 -7.6M369.3 162.7l7.6 7.6m-7.6 0l7.6 -7.6M371.9 165.8l7.6 7.6m-7.6 0l7.6 -7.6M379.3 167.7l7.6 7.6m-7.6 0l7.6 -7.6M383.1 167.6l7.6 7.6m-7.6 0l7.6 -7.6M387.6 170.3l7.6 7.6m-7.6 0l7.6 -7.6M391.4 169l7.6 7.6m-7.6 0l7.6 -7.6M393 170l7.6 7.6m-7.6 0l7.6 -7.6M398.3 172.4l7.6 7.6m-7.6 0l7.6 -7.6M398.9 172.1l7.6 7.6m-7.6 0l7.6 -7.6M406.1 174.2l7.6 7.6m-7.6 0l7.6 -7.6M406 176.7l7.6 7.6m-7.6 0l7.6 -7.6M408 176.8l7.6 7.6m-7.6 0l7.6 -7.6M375.2 180.2l7.6 7.6m-7.6 0l7.6 -7.6M383.2 180.2l7.6 7.6m-7.6 0l7.6 -7.6M331.4 191.5l7.6 7.6m-7.6 0l7.6 -7.6M332.2 190.1l7.6 7.6m-7.6 0l7.6 -7.6M329.6 188.7l7.6 7.6m-7.6 0l7.6 -7.6M320.9 184.1l7.6 7.6m-7.6 0l7.6 -7.6M336 192.1l7.6 7.6m-7.6 0l7.6 -7.6M323.8 187.8l7.6 7.6m-7.6 0l7.6 -7.6M310.2 199.2l7.6 7.6m-7.6 0l7.6 -7.6M320.7 202.2l7.6 7.6m-7.6 0l7.6 -7.6M328.2 201.7l7.6 7.6m-7.6 0l7.6 -7.6M336.5 205.8l7.6 7.6m-7.6 0l7.6 -7.6M343.6 207.9l7.6 7.6m-7.6 0l7.6 -7.6M344.5 203.5l7.6 7.6m-7.6 0l7.6 -7.6M339.7 203.2l7.6 7.6m-7.6 0l7.6 -7.6M330.9 215.7l7.6 7.6m-7.6 0l7.6 -7.6M328 215.8l7.6 7.6m-7.6 0l7.6 -7.6M329.3 218.7l7.6 7.6m-7.6 0l7.6 -7.6M325.2 214.3l7.6 7.6m-7.6 0l7.6 -7.6M320.7 214.6l7.6 7.6m-7.6 0l7.6 -7.6M315.1 223.2l7.6 7.6m-7.6 0l7.6 -7.6M319.5 222.3l7.6 7.6m-7.6 0l7.6 -7.6M310.9 222.8l7.6 7.6m-7.6 0l7.6 -7.6M309.8 228.6l7.6 7.6m-7.6 0l7.6 -7.6M297.2 229.8l7.6 7.6m-7.6 0l7.6 -7.6M326.2 241.7l7.6 7.6m-7.6 0l7.6 -7.6M338.2 243.7l7.6 7.6m-7.6 0l7.6 -7.6M362 249.2l7.6 7.6m-7.6 0l7.6 -7.6M381.2 253l7.6 7.6m-7.6 0l7.6 -7.6M374.8 250.6l7.6 7.6m-7.6 0l7.6 -7.6M374.9 257l7.6 7.6m-7.6 0l7.6 -7.6M366.4 248.6l7.6 7.6m-7.6 0l7.6 -7.6M364.9 247.4l7.6 7.6m-7.6 0l7.6 -7.6M375.9 247.9l7.6 7.6m-7.6 0l7.6 -7.6M382.8 248.5l7.6 7.6m-7.6 0l7.6 -7.6M375.1 249.9l7.6 7.6m-7.6 0l7.6 -7.6M367.2 247.4l7.6 7.6m-7.6 0l7.6 -7.6M360.4 249.8l7.6 7.6m-7.6 0l7.6 -7.6M350.2 258.2l7.6 7.6m-7.6 0l7.6 -7.6M314.2 259.7l7.6 7.6m-7.6 0l7.6 -7.6M331.2 259.7l7.6 7.6m-7.6 0l7.6 -7.6M303 275l7.6 7.6m-7.6 0l7.6 -7.6M296.9 276.3l7.6 7.6m-7.6 0l7.6 -7.6M289.6 266.1l7.6 7.6m-7.6 0l7.6 -7.6M293.7 260.3l7.6 7.6m-7.6 0l7.6 -7.6M301.4 277.2l7.6 7.6m-7.6 0l7.6 -7.6M305.6 263.9l7.6 7.6m-7.6 0l7.6 -7.6M302.6 274.5l7.6 7.6m-7.6 0l7.6 -7.6M298.7 270.1l7.6 7.6m-7.6 0l7.6 -7.6M294.8 261.6l7.6 7.6m-7.6 0l7.6 -7.6M297.1 266.4l7.6 7.6m-7.6 0l7.6 -7.6M303.2 276.5l7.6 7.6m-7.6 0l7.6 -7.6M349 282.5l7.6 7.6m-7.6 0l7.6 -7.6M341.9 286.6l7.6 7.6m-7.6 0l7.6 -7.6M347.9 284.1l7.6 7.6m-7.6 0l7.6 -7.6M340.1 285.8l7.6 7.6m-7.6 0l7.6 -7.6M336.2 282.1l7.6 7.6m-7.6 0l7.6 -7.6M294.7 289.9l7.6 7.6m-7.6 0l7.6 -7.6M266.3 299l7.6 7.6m-7.6 0l7.6 -7.6M253.4 294.4l7.6 7.6m-7.6 0l7.6 -7.6M268.8 298.6l7.6 7.6m-7.6 0l7.6 -7.6M268.1 293.7l7.6 7.6m-7.6 0l7.6 -7.6M261.8 293.4l7.6 7.6m-7.6 0l7.6 -7.6M273.3 297.6l7.6 7.6m-7.6 0l7.6 -7.6M254.1 296.8l7.6 7.6m-7.6 0l7.6 -7.6M297.9 300.8l7.6 7.6m-7.6 0l7.6 -7.6M322.1 302.2l7.6 7.6m-7.6 0l7.6 -7.6M321.5 303.6l7.6 7.6m-7.6 0l7.6 -7.6M317.4 308.6l7.6 7.6m-7.6 0l7.6 -7.6M317.2 303l7.6 7.6m-7.6 0l7.6 -7.6M316.8 298.5l7.6 7.6m-7.6 0l7.6 -7.6M308.9 306l7.6 7.6m-7.6 0l7.6 -7.6M310.9 306.3l7.6 7.6m-7.6 0l7.6 -7.6M335.7 311.7l7.6 7.6m-7.6 0l7.6 -7.6M342.1 317.8l7.6 7.6m-7.6 0l7.6 -7.6M337.5 308.4l7.6 7.6m-7.6 0l7.6 -7.6M326.1 310.5l7.6 7.6m-7.6 0l7.6 -7.6M323.1 313.9l7.6 7.6m-7.6 0l7.6 -7.6M332.2 311.2l7.6 7.6m-7.6 0l7.6 -7.6M339.9 308.6l7.6 7.6m-7.6 0l7.6 -7.6M333.8 308.8l7.6 7.6m-7.6 0l7.6 -7.6M328.1 317.2l7.6 7.6m-7.6 0l7.6 -7.6M341.6 312.8l7.6 7.6m-7.6 0l7.6 -7.6M319.2 327.4l7.6 7.6m-7.6 0l7.6 -7.6M324.4 331l7.6 7.6m-7.6 0l7.6 -7.6M324.9 326.5l7.6 7.6m-7.6 0l7.6 -7.6M320.4 331.1l7.6 7.6m-7.6 0l7.6 -7.6M321.7 331.5l7.6 7.6m-7.6 0l7.6 -7.6M345.1 331.5l7.6 7.6m-7.6 0l7.6 -7.6M333.2 334.7l7.6 7.6m-7.6 0l7.6 -7.6M342.7 331.1l7.6 7.6m-7.6 0l7.6 -7.6M324.5 329.4l7.6 7.6m-7.6 0l7.6 -7.6M338.8 341.2l7.6 7.6m-7.6 0l7.6 -7.6M331.5 339l7.6 7.6m-7.6 0l7.6 -7.6M309.2 340.7l7.6 7.6m-7.6 0l7.6 -7.6M269.6 347.8l7.6 7.6m-7.6 0l7.6 -7.6M259.4 347.7l7.6 7.6m-7.6 0l7.6 -7.6M267.4 345.9l7.6 7.6m-7.6 0l7.6 -7.6M271.4 347.1l7.6 7.6m-7.6 0l7.6 -7.6M255.8 348.5l7.6 7.6m-7.6 0l7.6 -7.6M275.4 348.7l7.6 7.6m-7.6 0l7.6 -7.6M264.8 344.5l7.6 7.6m-7.6 0l7.6 -7.6M261.9 348.1l7.6 7.6m-7.6 0l7.6 -7.6M259.6 346.4l7.6 7.6m-7.6 0l7.6 -7.6M261.3 345.8l7.6 7.6m-7.6 0l7.6 -7.6M288.9 363.1l7.6 7.6m-7.6 0l7.6 -7.6M288.8 366.1l7.6 7.6m-7.6 0l7.6 -7.6M282.5 360.8l7.6 7.6m-7.6 0l7.6 -7.6M282.4 365.1l7.6 7.6m-7.6 0l7.6 -7.6M299.9 366.4l7.6 7.6m-7.6 0l7.6 -7.6M304.6 366.5l7.6 7.6m-7.6 0l7.6 -7.6M305.6 366.1l7.6 7.6m-7.6 0l7.6 -7.6M307.1 369.6l7.6 7.6m-7.6 0l7.6 -7.6M311 368.4l7.6 7.6m-7.6 0l7.6 -7.6M313.3 368.2l7.6 7.6m-7.6 0l7.6 -7.6M322.1 371.2l7.6 7.6m-7.6 0l7.6 -7.6M326.8 372.4l7.6 7.6m-7.6 0l7.6 -7.6M332.9 374.3l7.6 7.6m-7.6 0l7.6 -7.6M333.3 374.6l7.6 7.6m-7.6 0l7.6 -7.6M350.2 388.4l7.6 7.6m-7.6 0l7.6 -7.6M348.3 381.7l7.6 7.6m-7.6 0l7.6 -7.6M341.8 381.7l7.6 7.6m-7.6 0l7.6 -7.6M344.1 385.8l7.6 7.6m-7.6 0l7.6 -7.6M339.7 386.2l7.6 7.6m-7.6 0l7.6 -7.6M349.9 378.8l7.6 7.6m-7.6 0l7.6 -7.6M346.4 377.7l7.6 7.6m-7.6 0l7.6 -7.6M360.1 378.2l7.6 7.6m-7.6 0l7.6 -7.6M353.6 384l7.6 7.6m-7.6 0l7.6 -7.6M343.3 387.1l7.6 7.6m-7.6 0l7.6 -7.6M361.6 387.9l7.6 7.6m-7.6 0l7.6 -7.6M326.2 395.9l7.6 7.6m-7.6 0l7.6 -7.6M330.5 395.7l7.6 7.6m-7.6 0l7.6 -7.6M324.6 398.4l7.6 7.6m-7.6 0l7.6 -7.6M311 390.2l7.6 7.6m-7.6 0l7.6 -7.6M311.9 401.8l7.6 7.6m-7.6 0l7.6 -7.6M316.4 392.1l7.6 7.6m-7.6 0l7.6 -7.6M327.6 403.6l7.6 7.6m-7.6 0l7.6 -7.6M333.1 402.3l7.6 7.6m-7.6 0l7.6 -7.6M333.9 398.6l7.6 7.6m-7.6 0l7.6 -7.6" stroke="#00ffff" stroke-width="1.5" fill="none"/>
<path d="M110.3 49.5v5M110.3 413.5v-5M158.1 49.5v5M158.1 413.5v-5M205.9 49.5v5M205.9 413.5v-5M253.7 49.5v5M253.7 413.5v-5M301.9 49.5v5M301.9 413.5v-5M349.3 49.5v5M349.3 413.5v-5M397.1 49.5v5M397.1 413.5v-5M444.9 49.5v5M444.9 413.5v-5M492.7 49.5v5M492.7 413.5v-5M62.5 110.5h5M541 110.5h-5M62.5 171.5h5M541 171.5h-5M62.5 231.5h5M541 231.5h-5M62.5 291.5h5M541 291.5h-5M62.5 353h5M541 353h-5" stroke="#262626" stroke-width="1" fill="none"/>
<rect x="62.5" y="49.5" width="478.5" height="364" fill="none" stroke="#262626" stroke-width="1"/>
<text x="62.5" y="41" font-size="14" text-anchor="middle">0</text>
<text x="110.3" y="41" font-size="14" text-anchor="middle">0.1</text>
<text x="158.1" y="41" font-size="14" text-anchor="middle">0.2</text>
<text x="205.9" y="41" font-size="14" text-anchor="middle">0.3</text>
<text x="253.7" y="41" font-size="14" text-anchor="middle">0.4</text>
<text x="301.9" y="41" font-size="14" text-anchor="middle">0.5</text>
<text x="349.3" y="41" font-size="14" text-anchor="middle">0.6</text>
<text x="397.1" y="41" font-size="14" text-anchor="middle">0.7</text>
<text x="444.9" y="41" font-size="14" text-anchor="middle">0.8</text>
<text x="492.7" y="41" font-size="14" text-anchor="middle">0.9</text>
<text x="541" y="41" font-size="14" text-anchor="middle">1</text>
<text x="58.3" y="56.1" font-size="14" text-anchor="end" letter-spacing="0.6">3110</text>
<text x="58.3" y="117.1" font-size="14" text-anchor="end" letter-spacing="0.6">3115</text>
<text x="58.3" y="178.1" font-size="14" text-anchor="end" letter-spacing="0.6">3120</text>
<text x="58.3" y="238.1" font-size="14" text-anchor="end" letter-spacing="0.6">3125</text>
<text x="58.3" y="298.1" font-size="14" text-anchor="end" letter-spacing="0.6">3130</text>
<text x="58.3" y="359.6" font-size="14" text-anchor="end" letter-spacing="0.6">3135</text>
<text x="58.3" y="420.1" font-size="14" text-anchor="end" letter-spacing="0.6">3140</text>
<text x="301.5" y="18.5" font-size="16" text-anchor="middle" letter-spacing="0.3">BI Correlations</text>
<text transform="translate(16.3,231.6) rotate(-90)" font-size="16" text-anchor="middle" letter-spacing="0.25">Depth in m</text>
<rect x="76.5" y="63.5" width="233" height="98" fill="#fff" stroke="#262626" stroke-width="1"/>
<path d="M104.7 72l7.6 7.6m-7.6 0l7.6 -7.6" stroke="#ff0000" stroke-width="1" fill="none"/>
<text x="134.3" y="81.5" font-size="12" letter-spacing="0.62">MBI:Glorioso (Eq.3)</text>
<path d="M103.5 94.2h10m-5 -5v10m-3.6 -8.6l7.2 7.2m-7.2 0l7.2 -7.2" stroke="#ff0000" stroke-width="1" fill="none"/>
<text x="134.3" y="99.9" font-size="12" letter-spacing="0.62">MBI:Jin (Eq.5)</text>
<path d="M104.7 108.8l7.6 7.6m-7.6 0l7.6 -7.6" stroke="#000000" stroke-width="1" fill="none"/>
<text x="134.3" y="118.3" font-size="12" letter-spacing="0.62">LBI:Eagle Ford NPHI (Eq.12)</text>
<path d="M103.5 131h10m-5 -5v10m-3.6 -8.6l7.2 7.2m-7.2 0l7.2 -7.2" stroke="#00ffff" stroke-width="1" fill="none"/>
<text x="134.3" y="136.7" font-size="12" letter-spacing="0.62">EBI:Sharma (Eq.23)</text>
<path d="M104.7 145.6l7.6 7.6m-7.6 0l7.6 -7.6" stroke="#00ffff" stroke-width="1" fill="none"/>
<text x="134.3" y="155.1" font-size="12" letter-spacing="0.62">KIC:Jin (Eq.27)</text>
</svg></body></html>
